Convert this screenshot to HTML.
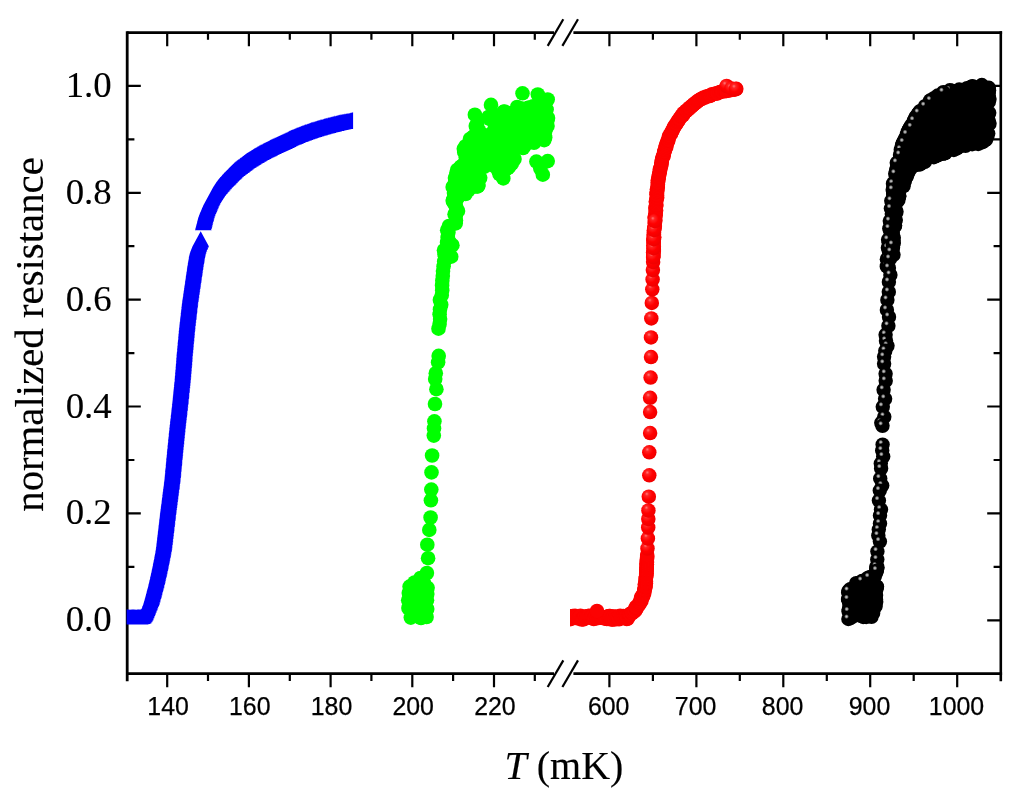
<!DOCTYPE html>
<html lang="en">
<head>
<meta charset="utf-8">
<title>normalized resistance vs T (mK)</title>
<style>
html,body{margin:0;padding:0;background:#fff;}
body{width:1024px;height:811px;overflow:hidden;}
svg{display:block;}
</style>
</head>
<body>
<svg width="1024" height="811" viewBox="0 0 1024 811" style="filter:blur(0.45px)">
<defs>
<radialGradient id="rb" cx="0.4" cy="0.36" r="0.66" fx="0.36" fy="0.3">
<stop offset="0" stop-color="#ff7a7a"/><stop offset="0.2" stop-color="#ff2424"/><stop offset="0.55" stop-color="#ff0000"/><stop offset="1" stop-color="#ee0000"/>
</radialGradient>
<radialGradient id="kb" cx="0.37" cy="0.33" r="0.5" fx="0.37" fy="0.33">
<stop offset="0" stop-color="#d0d0d0"/><stop offset="0.14" stop-color="#9a9a9a"/><stop offset="0.33" stop-color="#000"/><stop offset="1" stop-color="#000"/>
</radialGradient>
<clipPath id="cf"><rect x="126.6" y="34" width="872.9" height="638.3"/></clipPath>
<clipPath id="cb"><rect x="100" y="0" width="253.1" height="811"/></clipPath>
<clipPath id="cr"><rect x="570" y="0" width="460" height="811"/></clipPath>
</defs>
<rect width="1024" height="811" fill="#fff"/>
<g stroke="#000" stroke-width="2.8" fill="none" stroke-linecap="butt">
<path d="M127.2 31.200000000000003V681.3"/>
<path d="M1000.8 31.200000000000003V681.3" stroke-width="2.6"/>
<path d="M127.2 32.6H554.0 M573.4 32.6H1002.0999999999999"/>
<path d="M127.2 673.7H554.0 M573.4 673.7H1002.0999999999999"/>
</g>
<g stroke="#000" stroke-width="2.2" fill="none">
<path d="M547.7 45.9L563.3 19.3"/>
<path d="M562.4 45.9L578 19.3"/>
<path d="M547.7 687L563.3 660.4"/>
<path d="M562.4 687L578 660.4"/>
</g>
<g stroke="#000" stroke-width="2.2" fill="none">
<path d="M167.2 32.6v13.6M167.2 673.7v13.6M208 32.6v7.2M208 673.7v7.2M248.9 32.6v13.6M248.9 673.7v13.6M289.8 32.6v7.2M289.8 673.7v7.2M330.6 32.6v13.6M330.6 673.7v13.6M371.4 32.6v7.2M371.4 673.7v7.2M412.3 32.6v13.6M412.3 673.7v13.6M453.1 32.6v7.2M453.1 673.7v7.2M494 32.6v13.6M494 673.7v13.6M534.8 32.6v7.2M534.8 673.7v7.2M609.4 32.6v13.6M609.4 673.7v13.6M652.9 32.6v7.2M652.9 673.7v7.2M696.4 32.6v13.6M696.4 673.7v13.6M739.8 32.6v7.2M739.8 673.7v7.2M783.3 32.6v13.6M783.3 673.7v13.6M826.8 32.6v7.2M826.8 673.7v7.2M870.2 32.6v13.6M870.2 673.7v13.6M913.7 32.6v7.2M913.7 673.7v7.2M957.2 32.6v13.6M957.2 673.7v13.6M127.2 620.3h13.6M1000.8 620.3h-13.6M127.2 566.9h7.2M1000.8 566.9h-7.2M127.2 513.4h13.6M1000.8 513.4h-13.6M127.2 460h7.2M1000.8 460h-7.2M127.2 406.5h13.6M1000.8 406.5h-13.6M127.2 353.1h7.2M1000.8 353.1h-7.2M127.2 299.7h13.6M1000.8 299.7h-13.6M127.2 246.2h7.2M1000.8 246.2h-7.2M127.2 192.8h13.6M1000.8 192.8h-13.6M127.2 139.3h7.2M1000.8 139.3h-7.2M127.2 85.9h13.6M1000.8 85.9h-13.6"/>
</g>
<g font-family="'Liberation Sans', Arial, sans-serif" font-size="24.9" text-anchor="middle" fill="#000" stroke="#000" stroke-width="0.25">
<text x="168.1" y="715.4">140</text>
<text x="249.8" y="715.4">160</text>
<text x="331.5" y="715.4">180</text>
<text x="413.2" y="715.4">200</text>
<text x="494.9" y="715.4">220</text>
<text x="608.7" y="715.4">600</text>
<text x="695.6" y="715.4">700</text>
<text x="782.6" y="715.4">800</text>
<text x="869.5" y="715.4">900</text>
<text x="956.5" y="715.4">1000</text>
</g>
<g font-family="'Liberation Serif', 'Times New Roman', serif" font-size="36.8" text-anchor="end" fill="#000" stroke="#000" stroke-width="0.12">
<text x="111.7" y="631.3">0.0</text>
<text x="111.7" y="524.4">0.2</text>
<text x="111.7" y="417.5">0.4</text>
<text x="111.7" y="310.7">0.6</text>
<text x="111.7" y="203.8">0.8</text>
<text x="111.7" y="96.9">1.0</text>
</g>
<g font-family="'Liberation Serif', 'Times New Roman', serif" text-anchor="middle" fill="#000" stroke="#000" stroke-width="0.15">
<text font-size="40.8" transform="translate(42.5 334.5) rotate(-90)">normalized resistance</text>
<text font-size="40" x="564" y="778.8"><tspan font-style="italic">T</tspan> (mK)</text>
</g>
<g clip-path="url(#cf)">
<path fill="#0000fa" clip-path="url(#cb)" d="M118 609l8.4 15.5h-16.8zM119.2 609l8.4 15.5h-16.8zM120.4 609l8.4 15.5h-16.8zM121.6 609l8.4 15.5h-16.8zM122.8 609l8.4 15.5h-16.8zM124 609l8.4 15.5h-16.8zM125.2 609l8.4 15.5h-16.8zM126.4 609l8.4 15.5h-16.8zM127.6 609l8.4 15.5h-16.8zM128.8 609l8.4 15.5h-16.8zM130 609l8.4 15.5h-16.8zM131.2 609l8.4 15.5h-16.8zM132.4 609l8.4 15.5h-16.8zM133.6 609l8.4 15.5h-16.8zM134.8 609l8.4 15.5h-16.8zM136 609l8.4 15.5h-16.8zM137.3 609l8.4 15.5h-16.8zM138.5 609l8.4 15.5h-16.8zM139.7 608.9l8.4 15.5h-16.8zM140.9 608.8l8.4 15.5h-16.8zM142 608.5l8.4 15.5h-16.8zM143.1 607.9l8.4 15.5h-16.8zM143.9 607.1l8.4 15.5h-16.8zM144.6 606.1l8.4 15.5h-16.8zM145.1 605l8.4 15.5h-16.8zM145.6 603.9l8.4 15.5h-16.8zM146.1 602.8l8.4 15.5h-16.8zM146.5 601.7l8.4 15.5h-16.8zM147 600.6l8.4 15.5h-16.8zM147.4 599.4l8.4 15.5h-16.8zM147.8 598.3l8.4 15.5h-16.8zM148.3 597.2l8.4 15.5h-16.8zM148.7 596.1l8.4 15.5h-16.8zM149.2 595l8.4 15.5h-16.8zM149.6 593.9l8.4 15.5h-16.8zM150.1 592.7l8.4 15.5h-16.8zM150.5 591.6l8.4 15.5h-16.8zM151 590.5l8.4 15.5h-16.8zM151.4 589.4l8.4 15.5h-16.8zM151.7 588.2l8.4 15.5h-16.8zM152.1 587.1l8.4 15.5h-16.8zM152.4 585.9l8.4 15.5h-16.8zM152.7 584.7l8.4 15.5h-16.8zM153.1 583.6l8.4 15.5h-16.8zM153.4 582.4l8.4 15.5h-16.8zM153.7 581.3l8.4 15.5h-16.8zM154 580.1l8.4 15.5h-16.8zM154.3 578.9l8.4 15.5h-16.8zM154.6 577.8l8.4 15.5h-16.8zM154.9 576.6l8.4 15.5h-16.8zM155.2 575.5l8.4 15.5h-16.8zM155.5 574.3l8.4 15.5h-16.8zM155.9 573.1l8.4 15.5h-16.8zM156.2 572l8.4 15.5h-16.8zM156.4 570.8l8.4 15.5h-16.8zM156.7 569.6l8.4 15.5h-16.8zM157 568.5l8.4 15.5h-16.8zM157.3 567.3l8.4 15.5h-16.8zM157.5 566.1l8.4 15.5h-16.8zM157.8 564.9l8.4 15.5h-16.8zM158.1 563.8l8.4 15.5h-16.8zM158.3 562.6l8.4 15.5h-16.8zM158.6 561.4l8.4 15.5h-16.8zM158.9 560.2l8.4 15.5h-16.8zM159.1 559.1l8.4 15.5h-16.8zM159.4 557.9l8.4 15.5h-16.8zM159.6 556.7l8.4 15.5h-16.8zM159.9 555.5l8.4 15.5h-16.8zM160.1 554.4l8.4 15.5h-16.8zM160.4 553.2l8.4 15.5h-16.8zM160.6 552l8.4 15.5h-16.8zM160.9 550.8l8.4 15.5h-16.8zM161.1 549.6l8.4 15.5h-16.8zM161.3 548.5l8.4 15.5h-16.8zM161.6 547.3l8.4 15.5h-16.8zM161.8 546.1l8.4 15.5h-16.8zM162 544.9l8.4 15.5h-16.8zM162.3 543.7l8.4 15.5h-16.8zM162.5 542.6l8.4 15.5h-16.8zM162.7 541.4l8.4 15.5h-16.8zM162.9 540.2l8.4 15.5h-16.8zM163.2 539l8.4 15.5h-16.8zM163.4 537.8l8.4 15.5h-16.8zM163.6 536.6l8.4 15.5h-16.8zM163.8 535.5l8.4 15.5h-16.8zM164 534.3l8.4 15.5h-16.8zM164.1 533.1l8.4 15.5h-16.8zM164.3 531.9l8.4 15.5h-16.8zM164.4 530.7l8.4 15.5h-16.8zM164.6 529.5l8.4 15.5h-16.8zM164.7 528.3l8.4 15.5h-16.8zM164.9 527.1l8.4 15.5h-16.8zM165 525.9l8.4 15.5h-16.8zM165.1 524.7l8.4 15.5h-16.8zM165.3 523.5l8.4 15.5h-16.8zM165.4 522.3l8.4 15.5h-16.8zM165.6 521.1l8.4 15.5h-16.8zM165.7 519.9l8.4 15.5h-16.8zM165.8 518.7l8.4 15.5h-16.8zM166 517.5l8.4 15.5h-16.8zM166.1 516.4l8.4 15.5h-16.8zM166.3 515.2l8.4 15.5h-16.8zM166.4 514l8.4 15.5h-16.8zM166.5 512.8l8.4 15.5h-16.8zM166.7 511.6l8.4 15.5h-16.8zM166.8 510.4l8.4 15.5h-16.8zM167 509.2l8.4 15.5h-16.8zM167.1 508l8.4 15.5h-16.8zM167.2 506.8l8.4 15.5h-16.8zM167.4 505.6l8.4 15.5h-16.8zM167.5 504.4l8.4 15.5h-16.8zM167.7 503.2l8.4 15.5h-16.8zM167.8 502l8.4 15.5h-16.8zM167.9 500.8l8.4 15.5h-16.8zM168.1 499.6l8.4 15.5h-16.8zM168.2 498.4l8.4 15.5h-16.8zM168.4 497.2l8.4 15.5h-16.8zM168.5 496l8.4 15.5h-16.8zM168.7 494.8l8.4 15.5h-16.8zM168.8 493.7l8.4 15.5h-16.8zM169 492.5l8.4 15.5h-16.8zM169.1 491.3l8.4 15.5h-16.8zM169.3 490.1l8.4 15.5h-16.8zM169.5 488.9l8.4 15.5h-16.8zM169.6 487.7l8.4 15.5h-16.8zM169.8 486.5l8.4 15.5h-16.8zM169.9 485.3l8.4 15.5h-16.8zM170.1 484.1l8.4 15.5h-16.8zM170.2 482.9l8.4 15.5h-16.8zM170.4 481.7l8.4 15.5h-16.8zM170.5 480.5l8.4 15.5h-16.8zM170.7 479.3l8.4 15.5h-16.8zM170.8 478.1l8.4 15.5h-16.8zM171 476.9l8.4 15.5h-16.8zM171.1 475.8l8.4 15.5h-16.8zM171.3 474.6l8.4 15.5h-16.8zM171.5 473.4l8.4 15.5h-16.8zM171.6 472.2l8.4 15.5h-16.8zM171.8 471l8.4 15.5h-16.8zM171.9 469.8l8.4 15.5h-16.8zM172.1 468.6l8.4 15.5h-16.8zM172.2 467.4l8.4 15.5h-16.8zM172.4 466.2l8.4 15.5h-16.8zM172.5 465l8.4 15.5h-16.8zM172.6 463.8l8.4 15.5h-16.8zM172.8 462.6l8.4 15.5h-16.8zM172.9 461.4l8.4 15.5h-16.8zM173 460.2l8.4 15.5h-16.8zM173.1 459l8.4 15.5h-16.8zM173.2 457.8l8.4 15.5h-16.8zM173.3 456.6l8.4 15.5h-16.8zM173.4 455.4l8.4 15.5h-16.8zM173.5 454.2l8.4 15.5h-16.8zM173.7 453l8.4 15.5h-16.8zM173.8 451.8l8.4 15.5h-16.8zM173.9 450.6l8.4 15.5h-16.8zM174 449.4l8.4 15.5h-16.8zM174.1 448.2l8.4 15.5h-16.8zM174.2 447l8.4 15.5h-16.8zM174.3 445.8l8.4 15.5h-16.8zM174.4 444.6l8.4 15.5h-16.8zM174.5 443.4l8.4 15.5h-16.8zM174.7 442.2l8.4 15.5h-16.8zM174.8 441.1l8.4 15.5h-16.8zM174.9 439.9l8.4 15.5h-16.8zM175 438.7l8.4 15.5h-16.8zM175.1 437.5l8.4 15.5h-16.8zM175.2 436.3l8.4 15.5h-16.8zM175.3 435.1l8.4 15.5h-16.8zM175.5 433.9l8.4 15.5h-16.8zM175.6 432.7l8.4 15.5h-16.8zM175.7 431.5l8.4 15.5h-16.8zM175.8 430.3l8.4 15.5h-16.8zM176 429.1l8.4 15.5h-16.8zM176.1 427.9l8.4 15.5h-16.8zM176.2 426.7l8.4 15.5h-16.8zM176.3 425.5l8.4 15.5h-16.8zM176.4 424.3l8.4 15.5h-16.8zM176.6 423.1l8.4 15.5h-16.8zM176.7 421.9l8.4 15.5h-16.8zM176.8 420.7l8.4 15.5h-16.8zM176.9 419.5l8.4 15.5h-16.8zM177 418.3l8.4 15.5h-16.8zM177.2 417.1l8.4 15.5h-16.8zM177.3 415.9l8.4 15.5h-16.8zM177.4 414.7l8.4 15.5h-16.8zM177.5 413.5l8.4 15.5h-16.8zM177.7 412.3l8.4 15.5h-16.8zM177.8 411.1l8.4 15.5h-16.8zM177.9 409.9l8.4 15.5h-16.8zM178.1 408.7l8.4 15.5h-16.8zM178.2 407.5l8.4 15.5h-16.8zM178.3 406.3l8.4 15.5h-16.8zM178.5 405.1l8.4 15.5h-16.8zM178.6 404l8.4 15.5h-16.8zM178.8 402.8l8.4 15.5h-16.8zM178.9 401.6l8.4 15.5h-16.8zM179 400.4l8.4 15.5h-16.8zM179.2 399.2l8.4 15.5h-16.8zM179.3 398l8.4 15.5h-16.8zM179.4 396.8l8.4 15.5h-16.8zM179.6 395.6l8.4 15.5h-16.8zM179.7 394.4l8.4 15.5h-16.8zM179.8 393.2l8.4 15.5h-16.8zM180 392l8.4 15.5h-16.8zM180.1 390.8l8.4 15.5h-16.8zM180.2 389.6l8.4 15.5h-16.8zM180.4 388.4l8.4 15.5h-16.8zM180.5 387.2l8.4 15.5h-16.8zM180.6 386l8.4 15.5h-16.8zM180.7 384.8l8.4 15.5h-16.8zM180.9 383.6l8.4 15.5h-16.8zM181 382.4l8.4 15.5h-16.8zM181.1 381.2l8.4 15.5h-16.8zM181.2 380l8.4 15.5h-16.8zM181.3 378.8l8.4 15.5h-16.8zM181.5 377.6l8.4 15.5h-16.8zM181.6 376.4l8.4 15.5h-16.8zM181.7 375.2l8.4 15.5h-16.8zM181.8 374l8.4 15.5h-16.8zM182 372.8l8.4 15.5h-16.8zM182.1 371.7l8.4 15.5h-16.8zM182.2 370.5l8.4 15.5h-16.8zM182.3 369.3l8.4 15.5h-16.8zM182.4 368.1l8.4 15.5h-16.8zM182.6 366.9l8.4 15.5h-16.8zM182.7 365.7l8.4 15.5h-16.8zM182.8 364.5l8.4 15.5h-16.8zM182.9 363.3l8.4 15.5h-16.8zM183 362.1l8.4 15.5h-16.8zM183.1 360.9l8.4 15.5h-16.8zM183.2 359.7l8.4 15.5h-16.8zM183.3 358.5l8.4 15.5h-16.8zM183.4 357.3l8.4 15.5h-16.8zM183.5 356.1l8.4 15.5h-16.8zM183.6 354.9l8.4 15.5h-16.8zM183.7 353.7l8.4 15.5h-16.8zM183.8 352.5l8.4 15.5h-16.8zM183.9 351.3l8.4 15.5h-16.8zM184 350.1l8.4 15.5h-16.8zM184.1 348.9l8.4 15.5h-16.8zM184.2 347.7l8.4 15.5h-16.8zM184.3 346.5l8.4 15.5h-16.8zM184.4 345.3l8.4 15.5h-16.8zM184.4 344.1l8.4 15.5h-16.8zM184.5 342.9l8.4 15.5h-16.8zM184.6 341.7l8.4 15.5h-16.8zM184.7 340.5l8.4 15.5h-16.8zM184.8 339.3l8.4 15.5h-16.8zM184.9 338.1l8.4 15.5h-16.8zM185.1 336.9l8.4 15.5h-16.8zM185.2 335.7l8.4 15.5h-16.8zM185.3 334.5l8.4 15.5h-16.8zM185.4 333.3l8.4 15.5h-16.8zM185.5 332.1l8.4 15.5h-16.8zM185.6 330.9l8.4 15.5h-16.8zM185.7 329.7l8.4 15.5h-16.8zM185.8 328.5l8.4 15.5h-16.8zM185.9 327.3l8.4 15.5h-16.8zM186.1 326.1l8.4 15.5h-16.8zM186.2 324.9l8.4 15.5h-16.8zM186.3 323.7l8.4 15.5h-16.8zM186.4 322.5l8.4 15.5h-16.8zM186.5 321.3l8.4 15.5h-16.8zM186.6 320.1l8.4 15.5h-16.8zM186.7 318.9l8.4 15.5h-16.8zM186.8 317.7l8.4 15.5h-16.8zM186.9 316.5l8.4 15.5h-16.8zM187.1 315.3l8.4 15.5h-16.8zM187.2 314.1l8.4 15.5h-16.8zM187.3 312.9l8.4 15.5h-16.8zM187.4 311.7l8.4 15.5h-16.8zM187.6 310.5l8.4 15.5h-16.8zM187.7 309.3l8.4 15.5h-16.8zM187.8 308.1l8.4 15.5h-16.8zM188 306.9l8.4 15.5h-16.8zM188.1 305.8l8.4 15.5h-16.8zM188.3 304.6l8.4 15.5h-16.8zM188.4 303.4l8.4 15.5h-16.8zM188.5 302.2l8.4 15.5h-16.8zM188.7 301l8.4 15.5h-16.8zM188.8 299.8l8.4 15.5h-16.8zM188.9 298.6l8.4 15.5h-16.8zM189.1 297.4l8.4 15.5h-16.8zM189.2 296.2l8.4 15.5h-16.8zM189.3 295l8.4 15.5h-16.8zM189.5 293.8l8.4 15.5h-16.8zM189.6 292.6l8.4 15.5h-16.8zM189.8 291.4l8.4 15.5h-16.8zM189.9 290.2l8.4 15.5h-16.8zM190 289l8.4 15.5h-16.8zM190.2 287.8l8.4 15.5h-16.8zM190.4 286.6l8.4 15.5h-16.8zM190.5 285.4l8.4 15.5h-16.8zM190.7 284.3l8.4 15.5h-16.8zM190.9 283.1l8.4 15.5h-16.8zM191.1 281.9l8.4 15.5h-16.8zM191.2 280.7l8.4 15.5h-16.8zM191.4 279.5l8.4 15.5h-16.8zM191.6 278.3l8.4 15.5h-16.8zM191.8 277.1l8.4 15.5h-16.8zM191.9 275.9l8.4 15.5h-16.8zM192.1 274.7l8.4 15.5h-16.8zM192.3 273.5l8.4 15.5h-16.8zM192.5 272.3l8.4 15.5h-16.8zM192.6 271.2l8.4 15.5h-16.8zM192.8 270l8.4 15.5h-16.8zM193 268.8l8.4 15.5h-16.8zM193.2 267.6l8.4 15.5h-16.8zM193.3 266.4l8.4 15.5h-16.8zM193.5 265.2l8.4 15.5h-16.8zM193.7 264l8.4 15.5h-16.8zM193.8 262.8l8.4 15.5h-16.8zM194 261.6l8.4 15.5h-16.8zM194.2 260.4l8.4 15.5h-16.8zM194.4 259.3l8.4 15.5h-16.8zM194.5 258.1l8.4 15.5h-16.8zM194.7 256.9l8.4 15.5h-16.8zM194.9 255.7l8.4 15.5h-16.8zM195.1 254.5l8.4 15.5h-16.8zM195.2 253.3l8.4 15.5h-16.8zM195.4 252.1l8.4 15.5h-16.8zM195.6 250.9l8.4 15.5h-16.8zM195.8 249.7l8.4 15.5h-16.8zM196 248.5l8.4 15.5h-16.8zM196.2 247.4l8.4 15.5h-16.8zM196.4 246.2l8.4 15.5h-16.8zM196.6 245l8.4 15.5h-16.8zM196.8 243.8l8.4 15.5h-16.8zM197 242.6l8.4 15.5h-16.8zM197.2 241.4l8.4 15.5h-16.8zM197.5 240.3l8.4 15.5h-16.8zM197.8 239.1l8.4 15.5h-16.8zM198.1 237.9l8.4 15.5h-16.8zM198.5 236.8l8.4 15.5h-16.8zM198.9 235.7l8.4 15.5h-16.8zM199.4 234.6l8.4 15.5h-16.8zM199.8 233.4l8.4 15.5h-16.8zM200.3 232.3l8.4 15.5h-16.8zM200.7 231.2l8.4 15.5h-16.8zM203.3 214.8l8.4 15.5h-16.8zM203.6 213.6l8.4 15.5h-16.8zM203.9 212.5l8.4 15.5h-16.8zM204.2 211.3l8.4 15.5h-16.8zM204.5 210.1l8.4 15.5h-16.8zM204.8 209l8.4 15.5h-16.8zM205.1 207.8l8.4 15.5h-16.8zM205.4 206.6l8.4 15.5h-16.8zM205.7 205.4l8.4 15.5h-16.8zM206 204.3l8.4 15.5h-16.8zM206.3 203.1l8.4 15.5h-16.8zM206.7 202l8.4 15.5h-16.8zM207.1 200.8l8.4 15.5h-16.8zM207.5 199.7l8.4 15.5h-16.8zM208 198.6l8.4 15.5h-16.8zM208.4 197.5l8.4 15.5h-16.8zM208.9 196.4l8.4 15.5h-16.8zM209.4 195.3l8.4 15.5h-16.8zM209.9 194.1l8.4 15.5h-16.8zM210.3 193l8.4 15.5h-16.8zM210.8 191.9l8.4 15.5h-16.8zM211.3 190.8l8.4 15.5h-16.8zM211.8 189.7l8.4 15.5h-16.8zM212.4 188.7l8.4 15.5h-16.8zM213 187.6l8.4 15.5h-16.8zM213.6 186.6l8.4 15.5h-16.8zM214.2 185.6l8.4 15.5h-16.8zM214.9 184.5l8.4 15.5h-16.8zM215.5 183.5l8.4 15.5h-16.8zM216.2 182.5l8.4 15.5h-16.8zM216.8 181.5l8.4 15.5h-16.8zM217.6 180.5l8.4 15.5h-16.8zM218.3 179.6l8.4 15.5h-16.8zM219.1 178.6l8.4 15.5h-16.8zM219.8 177.7l8.4 15.5h-16.8zM220.6 176.8l8.4 15.5h-16.8zM221.4 175.9l8.4 15.5h-16.8zM222.2 174.9l8.4 15.5h-16.8zM223 174l8.4 15.5h-16.8zM223.8 173.2l8.4 15.5h-16.8zM224.6 172.3l8.4 15.5h-16.8zM225.5 171.4l8.4 15.5h-16.8zM226.3 170.6l8.4 15.5h-16.8zM227.2 169.7l8.4 15.5h-16.8zM228 168.9l8.4 15.5h-16.8zM228.9 168l8.4 15.5h-16.8zM229.7 167.2l8.4 15.5h-16.8zM230.6 166.3l8.4 15.5h-16.8zM231.4 165.5l8.4 15.5h-16.8zM232.3 164.6l8.4 15.5h-16.8zM233.2 163.8l8.4 15.5h-16.8zM234 162.9l8.4 15.5h-16.8zM234.9 162.1l8.4 15.5h-16.8zM235.8 161.3l8.4 15.5h-16.8zM236.8 160.6l8.4 15.5h-16.8zM237.7 159.8l8.4 15.5h-16.8zM238.7 159.1l8.4 15.5h-16.8zM239.7 158.4l8.4 15.5h-16.8zM240.6 157.6l8.4 15.5h-16.8zM241.6 156.9l8.4 15.5h-16.8zM242.5 156.2l8.4 15.5h-16.8zM243.5 155.5l8.4 15.5h-16.8zM244.5 154.7l8.4 15.5h-16.8zM245.4 154l8.4 15.5h-16.8zM246.4 153.3l8.4 15.5h-16.8zM247.4 152.6l8.4 15.5h-16.8zM248.4 152l8.4 15.5h-16.8zM249.4 151.3l8.4 15.5h-16.8zM250.5 150.7l8.4 15.5h-16.8zM251.5 150l8.4 15.5h-16.8zM252.5 149.4l8.4 15.5h-16.8zM253.5 148.8l8.4 15.5h-16.8zM254.6 148.1l8.4 15.5h-16.8zM255.6 147.5l8.4 15.5h-16.8zM256.6 146.9l8.4 15.5h-16.8zM257.7 146.3l8.4 15.5h-16.8zM258.7 145.7l8.4 15.5h-16.8zM259.8 145.1l8.4 15.5h-16.8zM260.8 144.5l8.4 15.5h-16.8zM261.9 143.9l8.4 15.5h-16.8zM263 143.4l8.4 15.5h-16.8zM264 142.8l8.4 15.5h-16.8zM265.1 142.3l8.4 15.5h-16.8zM266.2 141.8l8.4 15.5h-16.8zM267.3 141.2l8.4 15.5h-16.8zM268.4 140.7l8.4 15.5h-16.8zM269.5 140.2l8.4 15.5h-16.8zM270.5 139.6l8.4 15.5h-16.8zM271.6 139.1l8.4 15.5h-16.8zM272.7 138.6l8.4 15.5h-16.8zM273.8 138.1l8.4 15.5h-16.8zM274.9 137.6l8.4 15.5h-16.8zM276 137.1l8.4 15.5h-16.8zM277.1 136.6l8.4 15.5h-16.8zM278.2 136.1l8.4 15.5h-16.8zM279.3 135.6l8.4 15.5h-16.8zM280.4 135.1l8.4 15.5h-16.8zM281.5 134.6l8.4 15.5h-16.8zM282.6 134.1l8.4 15.5h-16.8zM283.7 133.6l8.4 15.5h-16.8zM284.8 133l8.4 15.5h-16.8zM285.8 132.5l8.4 15.5h-16.8zM286.9 131.9l8.4 15.5h-16.8zM288 131.4l8.4 15.5h-16.8zM289.1 130.8l8.4 15.5h-16.8zM290.1 130.3l8.4 15.5h-16.8zM291.2 129.8l8.4 15.5h-16.8zM292.3 129.3l8.4 15.5h-16.8zM293.5 128.9l8.4 15.5h-16.8zM294.6 128.4l8.4 15.5h-16.8zM295.7 128l8.4 15.5h-16.8zM296.8 127.5l8.4 15.5h-16.8zM297.9 127.1l8.4 15.5h-16.8zM299.1 126.6l8.4 15.5h-16.8zM300.2 126.2l8.4 15.5h-16.8zM301.3 125.7l8.4 15.5h-16.8zM302.4 125.3l8.4 15.5h-16.8zM303.6 124.9l8.4 15.5h-16.8zM304.7 124.5l8.4 15.5h-16.8zM305.8 124.1l8.4 15.5h-16.8zM307 123.7l8.4 15.5h-16.8zM308.1 123.3l8.4 15.5h-16.8zM309.3 122.9l8.4 15.5h-16.8zM310.4 122.5l8.4 15.5h-16.8zM311.6 122.1l8.4 15.5h-16.8zM312.7 121.8l8.4 15.5h-16.8zM313.8 121.4l8.4 15.5h-16.8zM315 121l8.4 15.5h-16.8zM316.1 120.7l8.4 15.5h-16.8zM317.3 120.3l8.4 15.5h-16.8zM318.5 120l8.4 15.5h-16.8zM319.6 119.7l8.4 15.5h-16.8zM320.8 119.3l8.4 15.5h-16.8zM321.9 119l8.4 15.5h-16.8zM323.1 118.7l8.4 15.5h-16.8zM324.3 118.3l8.4 15.5h-16.8zM325.4 118l8.4 15.5h-16.8zM326.6 117.7l8.4 15.5h-16.8zM327.8 117.4l8.4 15.5h-16.8zM328.9 117.1l8.4 15.5h-16.8zM330.1 116.8l8.4 15.5h-16.8zM331.3 116.5l8.4 15.5h-16.8zM332.4 116.2l8.4 15.5h-16.8zM333.6 115.9l8.4 15.5h-16.8zM334.8 115.6l8.4 15.5h-16.8zM336 115.4l8.4 15.5h-16.8zM337.1 115.1l8.4 15.5h-16.8zM338.3 114.8l8.4 15.5h-16.8zM339.5 114.5l8.4 15.5h-16.8zM340.7 114.3l8.4 15.5h-16.8zM341.9 114l8.4 15.5h-16.8zM343 113.8l8.4 15.5h-16.8zM344.2 113.6l8.4 15.5h-16.8zM345.4 113.4l8.4 15.5h-16.8zM346.6 113.2l8.4 15.5h-16.8zM347.8 112.9l8.4 15.5h-16.8zM349 112.7l8.4 15.5h-16.8zM350.2 112.5l8.4 15.5h-16.8zM351.3 112.3l8.4 15.5h-16.8zM352.5 112l8.4 15.5h-16.8zM353.7 111.8l8.4 15.5h-16.8zM354.9 111.6l8.4 15.5h-16.8zM356.1 111.3l8.4 15.5h-16.8zM357.3 111.1l8.4 15.5h-16.8zM358.4 110.9l8.4 15.5h-16.8zM359.6 110.7l8.4 15.5h-16.8zM360.8 110.4l8.4 15.5h-16.8zM362 110.2l8.4 15.5h-16.8z"/>
<g fill="#00ff00"><circle cx="426.9" cy="573" r="7.3"/><circle cx="427.6" cy="587.8" r="7.3"/><circle cx="409.6" cy="586.6" r="7.3"/><circle cx="408.2" cy="600.2" r="7.3"/><circle cx="427" cy="600.2" r="7.3"/><circle cx="410.8" cy="617.6" r="7.3"/><circle cx="426.6" cy="617" r="7.3"/><circle cx="417" cy="607.6" r="7.3"/><circle cx="417" cy="590.3" r="7.3"/><circle cx="420.5" cy="578" r="7.3"/><circle cx="414.5" cy="582.5" r="7.3"/><circle cx="421" cy="618" r="7.3"/><circle cx="416" cy="616" r="7.3"/><circle cx="408.8" cy="593" r="7.3"/><circle cx="408.4" cy="608" r="7.3"/><circle cx="427.2" cy="609" r="7.3"/><circle cx="420" cy="596" r="7.3"/><circle cx="413" cy="600" r="7.3"/><circle cx="424" cy="583" r="7.3"/><circle cx="412" cy="612" r="7.3"/><circle cx="427.3" cy="594" r="7.3"/><circle cx="428.1" cy="558.2" r="7.3"/><circle cx="427.3" cy="544.7" r="7.3"/><circle cx="429.3" cy="529.9" r="7.3"/><circle cx="430.6" cy="517.5" r="7.3"/><circle cx="430.9" cy="500.3" r="7.3"/><circle cx="431.3" cy="489.6" r="7.3"/><circle cx="431.5" cy="472.4" r="7.3"/><circle cx="432.1" cy="455.5" r="7.3"/><circle cx="433.8" cy="435.6" r="7.3"/><circle cx="434" cy="428.4" r="7.3"/><circle cx="434.4" cy="421.3" r="7.3"/><circle cx="435" cy="404" r="7.3"/><circle cx="436.4" cy="389.2" r="7.3"/><circle cx="435.2" cy="379" r="7.3"/><circle cx="435.8" cy="373.2" r="7.3"/><circle cx="438.1" cy="362.3" r="7.3"/><circle cx="438.7" cy="355.9" r="7.3"/><circle cx="438.5" cy="328.7" r="7.3"/><circle cx="439.6" cy="323.9" r="7.3"/><circle cx="440.1" cy="319.1" r="7.3"/><circle cx="439.6" cy="314.3" r="7.3"/><circle cx="440" cy="309.5" r="7.3"/><circle cx="441.2" cy="304.7" r="7.3"/><circle cx="439.9" cy="299.9" r="7.3"/><circle cx="441.8" cy="295.1" r="7.3"/><circle cx="442.2" cy="290.3" r="7.3"/><circle cx="442.1" cy="285.5" r="7.3"/><circle cx="442.3" cy="280.7" r="7.3"/><circle cx="442.8" cy="275.9" r="7.3"/><circle cx="443" cy="271.1" r="7.3"/><circle cx="443.6" cy="266.3" r="7.3"/><circle cx="444.2" cy="261.5" r="7.3"/><circle cx="445.1" cy="256.7" r="7.3"/><circle cx="446.8" cy="252" r="7.3"/><circle cx="447" cy="247.2" r="7.3"/><circle cx="447.1" cy="242.4" r="7.3"/><circle cx="451.2" cy="256.7" r="7.3"/><circle cx="444.5" cy="254.4" r="7.3"/><circle cx="444" cy="250.2" r="7.3"/><circle cx="448.5" cy="248" r="7.3"/><circle cx="452.4" cy="245.2" r="7.3"/><circle cx="449.5" cy="241.9" r="7.3"/><circle cx="447.7" cy="237.8" r="7.3"/><circle cx="447.8" cy="236.1" r="7.3"/><circle cx="448.4" cy="232.4" r="7.3"/><circle cx="447.2" cy="230.2" r="7.3"/><circle cx="449" cy="226" r="7.3"/><circle cx="455.7" cy="223.4" r="7.3"/><circle cx="455.9" cy="220.6" r="7.3"/><circle cx="455.7" cy="216.4" r="7.3"/><circle cx="454.6" cy="214.2" r="7.3"/><circle cx="458" cy="210.9" r="7.3"/><circle cx="456.3" cy="207.2" r="7.3"/><circle cx="455.2" cy="204.7" r="7.3"/><circle cx="453.8" cy="202.6" r="7.3"/><circle cx="456.4" cy="199.9" r="7.3"/><circle cx="458.8" cy="196.1" r="7.3"/><circle cx="460.2" cy="193.2" r="7.3"/><circle cx="457" cy="189.8" r="7.3"/><circle cx="458.8" cy="186.8" r="7.3"/><circle cx="458.5" cy="184.9" r="7.3"/><circle cx="516.5" cy="138.2" r="7.3"/><circle cx="475" cy="147.2" r="7.3"/><circle cx="545.2" cy="131.2" r="7.3"/><circle cx="463" cy="190.8" r="7.3"/><circle cx="455.2" cy="182.2" r="7.3"/><circle cx="474" cy="159.2" r="7.3"/><circle cx="513.5" cy="136.2" r="7.3"/><circle cx="465" cy="162.5" r="7.3"/><circle cx="459.8" cy="179" r="7.3"/><circle cx="474.5" cy="150.8" r="7.3"/><circle cx="518.5" cy="126.8" r="7.3"/><circle cx="489.5" cy="154.8" r="7.3"/><circle cx="465.5" cy="180" r="7.3"/><circle cx="526" cy="132" r="7.3"/><circle cx="478.5" cy="185" r="7.3"/><circle cx="468.8" cy="158.2" r="7.3"/><circle cx="469.8" cy="180.2" r="7.3"/><circle cx="464" cy="188.5" r="7.3"/><circle cx="511.2" cy="155" r="7.3"/><circle cx="484.5" cy="147.8" r="7.3"/><circle cx="468.2" cy="172.8" r="7.3"/><circle cx="513" cy="143.2" r="7.3"/><circle cx="534" cy="111.8" r="7.3"/><circle cx="526.2" cy="115.8" r="7.3"/><circle cx="512" cy="117.2" r="7.3"/><circle cx="471.2" cy="170.2" r="7.3"/><circle cx="509.2" cy="132.8" r="7.3"/><circle cx="495.5" cy="165.5" r="7.3"/><circle cx="519" cy="122" r="7.3"/><circle cx="455.8" cy="179.2" r="7.3"/><circle cx="498.5" cy="156.5" r="7.3"/><circle cx="462.2" cy="186.2" r="7.3"/><circle cx="533.2" cy="106.2" r="7.3"/><circle cx="511.5" cy="154.8" r="7.3"/><circle cx="514.5" cy="159" r="7.3"/><circle cx="477.2" cy="126.5" r="7.3"/><circle cx="464.2" cy="152" r="7.3"/><circle cx="502.2" cy="136.2" r="7.3"/><circle cx="547.5" cy="119.8" r="7.3"/><circle cx="520.8" cy="144" r="7.3"/><circle cx="499.5" cy="124" r="7.3"/><circle cx="490.8" cy="146" r="7.3"/><circle cx="505.5" cy="133.2" r="7.3"/><circle cx="544.2" cy="140.2" r="7.3"/><circle cx="464" cy="186.5" r="7.3"/><circle cx="487.2" cy="141.2" r="7.3"/><circle cx="538.2" cy="108.5" r="7.3"/><circle cx="457.5" cy="180.5" r="7.3"/><circle cx="468" cy="160.2" r="7.3"/><circle cx="500.8" cy="147" r="7.3"/><circle cx="454" cy="193" r="7.3"/><circle cx="495.2" cy="148" r="7.3"/><circle cx="498.2" cy="136.2" r="7.3"/><circle cx="545.2" cy="137.5" r="7.3"/><circle cx="456.5" cy="172.8" r="7.3"/><circle cx="509" cy="166.8" r="7.3"/><circle cx="455" cy="188" r="7.3"/><circle cx="523" cy="122.5" r="7.3"/><circle cx="530.2" cy="112.8" r="7.3"/><circle cx="504.5" cy="121.8" r="7.3"/><circle cx="469.8" cy="146.8" r="7.3"/><circle cx="526.2" cy="140" r="7.3"/><circle cx="503.2" cy="118" r="7.3"/><circle cx="478" cy="186.2" r="7.3"/><circle cx="477.2" cy="186.5" r="7.3"/><circle cx="503.2" cy="125.2" r="7.3"/><circle cx="506.5" cy="150.8" r="7.3"/><circle cx="524.2" cy="140.5" r="7.3"/><circle cx="463" cy="190.5" r="7.3"/><circle cx="522.8" cy="127.5" r="7.3"/><circle cx="533.8" cy="126" r="7.3"/><circle cx="460.5" cy="166.8" r="7.3"/><circle cx="498" cy="169.8" r="7.3"/><circle cx="509.5" cy="136.2" r="7.3"/><circle cx="536.2" cy="125.8" r="7.3"/><circle cx="519.2" cy="110.5" r="7.3"/><circle cx="505" cy="137.5" r="7.3"/><circle cx="500.5" cy="140.2" r="7.3"/><circle cx="518.2" cy="115.5" r="7.3"/><circle cx="501.2" cy="129.2" r="7.3"/><circle cx="489.2" cy="136.5" r="7.3"/><circle cx="511.5" cy="129.8" r="7.3"/><circle cx="481" cy="160.8" r="7.3"/><circle cx="498.5" cy="161.2" r="7.3"/><circle cx="477.2" cy="153.2" r="7.3"/><circle cx="507.8" cy="168.2" r="7.3"/><circle cx="484.2" cy="164.2" r="7.3"/><circle cx="510" cy="139.5" r="7.3"/><circle cx="514.5" cy="122.2" r="7.3"/><circle cx="530" cy="129.2" r="7.3"/><circle cx="498.5" cy="159.5" r="7.3"/><circle cx="462.5" cy="186.5" r="7.3"/><circle cx="483.2" cy="157.8" r="7.3"/><circle cx="470.2" cy="169.5" r="7.3"/><circle cx="492.8" cy="117.5" r="7.3"/><circle cx="452.8" cy="201" r="7.3"/><circle cx="507" cy="160.8" r="7.3"/><circle cx="467.2" cy="181.2" r="7.3"/><circle cx="478" cy="173.5" r="7.3"/><circle cx="456.8" cy="174.5" r="7.3"/><circle cx="544.5" cy="137" r="7.3"/><circle cx="530.2" cy="137.2" r="7.3"/><circle cx="520.5" cy="128" r="7.3"/><circle cx="506" cy="146.2" r="7.3"/><circle cx="544" cy="123.8" r="7.3"/><circle cx="474" cy="166.2" r="7.3"/><circle cx="465.8" cy="170.2" r="7.3"/><circle cx="540" cy="128" r="7.3"/><circle cx="500.2" cy="129.8" r="7.3"/><circle cx="517.2" cy="107" r="7.3"/><circle cx="510.8" cy="119.5" r="7.3"/><circle cx="525.8" cy="116.8" r="7.3"/><circle cx="484.2" cy="155" r="7.3"/><circle cx="517.5" cy="133.8" r="7.3"/><circle cx="476.5" cy="179" r="7.3"/><circle cx="456" cy="186" r="7.3"/><circle cx="491.8" cy="134" r="7.3"/><circle cx="530.2" cy="121" r="7.3"/><circle cx="470.5" cy="151.8" r="7.3"/><circle cx="521.8" cy="129.8" r="7.3"/><circle cx="504.8" cy="123.2" r="7.3"/><circle cx="465.8" cy="157.2" r="7.3"/><circle cx="539" cy="120.2" r="7.3"/><circle cx="548" cy="118" r="7.3"/><circle cx="523" cy="148" r="7.3"/><circle cx="464.2" cy="177" r="7.3"/><circle cx="507.2" cy="124.2" r="7.3"/><circle cx="501.2" cy="158.8" r="7.3"/><circle cx="496.8" cy="130" r="7.3"/><circle cx="453" cy="200" r="7.3"/><circle cx="538.8" cy="113.5" r="7.3"/><circle cx="517.8" cy="144.8" r="7.3"/><circle cx="493" cy="139.5" r="7.3"/><circle cx="502.8" cy="164" r="7.3"/><circle cx="514.2" cy="125.5" r="7.3"/><circle cx="477.5" cy="154.8" r="7.3"/><circle cx="508.5" cy="113" r="7.3"/><circle cx="476.5" cy="142.2" r="7.3"/><circle cx="477.2" cy="160.5" r="7.3"/><circle cx="471.5" cy="185.5" r="7.3"/><circle cx="528.5" cy="118.5" r="7.3"/><circle cx="453.8" cy="198.8" r="7.3"/><circle cx="488" cy="150" r="7.3"/><circle cx="465.5" cy="194" r="7.3"/><circle cx="496.5" cy="144.5" r="7.3"/><circle cx="547.5" cy="126" r="7.3"/><circle cx="516.2" cy="134" r="7.3"/><circle cx="475" cy="186.5" r="7.3"/><circle cx="457" cy="189.8" r="7.3"/><circle cx="457.5" cy="174" r="7.3"/><circle cx="465.8" cy="184.5" r="7.3"/><circle cx="528.8" cy="107.8" r="7.3"/><circle cx="510" cy="146" r="7.3"/><circle cx="517.2" cy="117" r="7.3"/><circle cx="477.8" cy="121" r="7.3"/><circle cx="508.2" cy="162" r="7.3"/><circle cx="483.5" cy="138.2" r="7.3"/><circle cx="536" cy="115.2" r="7.3"/><circle cx="510.8" cy="162" r="7.3"/><circle cx="466" cy="175" r="7.3"/><circle cx="524.8" cy="145.5" r="7.3"/><circle cx="505" cy="156" r="7.3"/><circle cx="466.8" cy="189.2" r="7.3"/><circle cx="473" cy="136.8" r="7.3"/><circle cx="480.2" cy="177.8" r="7.3"/><circle cx="461.2" cy="166.8" r="7.3"/><circle cx="501.8" cy="125" r="7.3"/><circle cx="512" cy="147.8" r="7.3"/><circle cx="477.8" cy="172.2" r="7.3"/><circle cx="468" cy="181.5" r="7.3"/><circle cx="458.2" cy="189.8" r="7.3"/><circle cx="505.5" cy="169.5" r="7.3"/><circle cx="528" cy="117.2" r="7.3"/><circle cx="546.5" cy="109.5" r="7.3"/><circle cx="481.8" cy="158" r="7.3"/><circle cx="497" cy="124.8" r="7.3"/><circle cx="468.5" cy="190" r="7.3"/><circle cx="534" cy="142.8" r="7.3"/><circle cx="474" cy="136.2" r="7.3"/><circle cx="488.2" cy="135.2" r="7.3"/><circle cx="539.5" cy="106.5" r="7.3"/><circle cx="528.2" cy="107.8" r="7.3"/><circle cx="485.2" cy="153" r="7.3"/><circle cx="532" cy="134" r="7.3"/><circle cx="524.8" cy="118.8" r="7.3"/><circle cx="467.2" cy="183.2" r="7.3"/><circle cx="461.5" cy="177" r="7.3"/><circle cx="469.2" cy="178.5" r="7.3"/><circle cx="477.2" cy="177.2" r="7.3"/><circle cx="479.2" cy="149" r="7.3"/><circle cx="502.2" cy="117" r="7.3"/><circle cx="512" cy="160" r="7.3"/><circle cx="528" cy="142.5" r="7.3"/><circle cx="522" cy="108.5" r="7.3"/><circle cx="498" cy="151.2" r="7.3"/><circle cx="527" cy="129.2" r="7.3"/><circle cx="506" cy="119" r="7.3"/><circle cx="476.5" cy="143.5" r="7.3"/><circle cx="459.2" cy="192.5" r="7.3"/><circle cx="538.5" cy="110.5" r="7.3"/><circle cx="465.5" cy="146.2" r="7.3"/><circle cx="514" cy="130" r="7.3"/><circle cx="528.5" cy="131.8" r="7.3"/><circle cx="533" cy="109" r="7.3"/><circle cx="510.2" cy="142.5" r="7.3"/><circle cx="495.8" cy="130" r="7.3"/><circle cx="485.8" cy="146.5" r="7.3"/><circle cx="499.5" cy="157.5" r="7.3"/><circle cx="509.8" cy="164.5" r="7.3"/><circle cx="508.8" cy="148.8" r="7.3"/><circle cx="513.8" cy="126.2" r="7.3"/><circle cx="498.8" cy="115.5" r="7.3"/><circle cx="477.5" cy="176" r="7.3"/><circle cx="503.5" cy="111.8" r="7.3"/><circle cx="487.2" cy="137.2" r="7.3"/><circle cx="482.5" cy="135.5" r="7.3"/><circle cx="490" cy="119" r="7.3"/><circle cx="536.5" cy="121.2" r="7.3"/><circle cx="499.5" cy="174.2" r="7.3"/><circle cx="468.2" cy="173.5" r="7.3"/><circle cx="531" cy="114.5" r="7.3"/><circle cx="478.2" cy="139.8" r="7.3"/><circle cx="521.8" cy="121.8" r="7.3"/><circle cx="487.2" cy="146.8" r="7.3"/><circle cx="521.2" cy="142.8" r="7.3"/><circle cx="475.8" cy="126" r="7.3"/><circle cx="467.2" cy="146.2" r="7.3"/><circle cx="530" cy="112.5" r="7.3"/><circle cx="520.8" cy="134" r="7.3"/><circle cx="455" cy="178" r="7.3"/><circle cx="527" cy="142.2" r="7.3"/><circle cx="457.2" cy="170" r="7.3"/><circle cx="504.8" cy="154" r="7.3"/><circle cx="483.5" cy="150.8" r="7.3"/><circle cx="484.2" cy="166.8" r="7.3"/><circle cx="504.5" cy="111.5" r="7.3"/><circle cx="535.8" cy="122.5" r="7.3"/><circle cx="470" cy="139" r="7.3"/><circle cx="493.5" cy="165.5" r="7.3"/><circle cx="501" cy="153.2" r="7.3"/><circle cx="492.5" cy="161" r="7.3"/><circle cx="470.8" cy="160.2" r="7.3"/><circle cx="499.5" cy="160.5" r="7.3"/><circle cx="483" cy="161.8" r="7.3"/><circle cx="546.2" cy="109.5" r="7.3"/><circle cx="539.8" cy="116" r="7.3"/><circle cx="521.8" cy="112.2" r="7.3"/><circle cx="505.8" cy="154.5" r="7.3"/><circle cx="471.5" cy="158.8" r="7.3"/><circle cx="538.5" cy="115.5" r="7.3"/><circle cx="506.5" cy="165.8" r="7.3"/><circle cx="482.2" cy="142.8" r="7.3"/><circle cx="455.8" cy="181" r="7.3"/><circle cx="522.5" cy="93.3" r="7.3"/><circle cx="537.8" cy="94.5" r="7.3"/><circle cx="547.7" cy="99.5" r="7.3"/><circle cx="491" cy="104.9" r="7.3"/><circle cx="474.9" cy="114.7" r="7.3"/><circle cx="536.4" cy="161.6" r="7.3"/><circle cx="547.7" cy="161.1" r="7.3"/><circle cx="542.8" cy="174.7" r="7.3"/><circle cx="503.3" cy="178.4" r="7.3"/><circle cx="511.9" cy="163.6" r="7.3"/><circle cx="452.7" cy="187" r="7.3"/><circle cx="463.8" cy="148.8" r="7.3"/><circle cx="540.3" cy="168.5" r="7.3"/><circle cx="488.5" cy="117" r="7.3"/><circle cx="479.5" cy="131.5" r="7.3"/><circle cx="494.5" cy="129.5" r="7.3"/></g>
<g clip-path="url(#cr)"><g fill="#fc0202"><circle cx="564" cy="616.3" r="7.25"/><circle cx="565.1" cy="617.9" r="7.25"/><circle cx="566.2" cy="617.4" r="7.25"/><circle cx="567.3" cy="618.6" r="7.25"/><circle cx="568.4" cy="616.4" r="7.25"/><circle cx="569.5" cy="619.3" r="7.25"/><circle cx="570.6" cy="616.5" r="7.25"/><circle cx="571.7" cy="618.7" r="7.25"/><circle cx="572.8" cy="615.9" r="7.25"/><circle cx="573.9" cy="617.5" r="7.25"/><circle cx="575" cy="615.7" r="7.25"/><circle cx="576.1" cy="616.9" r="7.25"/><circle cx="577.2" cy="616.8" r="7.25"/><circle cx="578.3" cy="618.5" r="7.25"/><circle cx="579.4" cy="617.4" r="7.25"/><circle cx="580.5" cy="615.8" r="7.25"/><circle cx="581.6" cy="619.6" r="7.25"/><circle cx="582.7" cy="619.2" r="7.25"/><circle cx="583.8" cy="619.3" r="7.25"/><circle cx="584.9" cy="616.6" r="7.25"/><circle cx="586" cy="617.2" r="7.25"/><circle cx="587.1" cy="616.5" r="7.25"/><circle cx="588.2" cy="616.1" r="7.25"/><circle cx="589.3" cy="615.7" r="7.25"/><circle cx="590.4" cy="617.6" r="7.25"/><circle cx="591.5" cy="616.1" r="7.25"/><circle cx="592.6" cy="616.3" r="7.25"/><circle cx="593.7" cy="619" r="7.25"/><circle cx="594.8" cy="617.5" r="7.25"/><circle cx="595.9" cy="616.3" r="7.25"/><circle cx="597" cy="618.3" r="7.25"/><circle cx="598.1" cy="616.7" r="7.25"/><circle cx="599.2" cy="617.7" r="7.25"/><circle cx="600.3" cy="616.7" r="7.25"/><circle cx="601.4" cy="617.7" r="7.25"/><circle cx="602.5" cy="618.1" r="7.25"/><circle cx="603.6" cy="617.7" r="7.25"/><circle cx="604.7" cy="617.2" r="7.25"/><circle cx="605.8" cy="618.8" r="7.25"/><circle cx="606.9" cy="619.1" r="7.25"/><circle cx="608" cy="616.3" r="7.25"/><circle cx="609.1" cy="616.1" r="7.25"/><circle cx="610.2" cy="616.1" r="7.25"/><circle cx="611.3" cy="619.5" r="7.25"/><circle cx="612.4" cy="619.4" r="7.25"/><circle cx="613.5" cy="616.5" r="7.25"/><circle cx="614.6" cy="619.5" r="7.25"/><circle cx="615.7" cy="616.4" r="7.25"/><circle cx="616.8" cy="617.6" r="7.25"/><circle cx="617.9" cy="617.6" r="7.25"/><circle cx="619" cy="619.3" r="7.25"/><circle cx="620.1" cy="615.8" r="7.25"/><circle cx="621.2" cy="616.9" r="7.25"/><circle cx="622.3" cy="618" r="7.25"/><circle cx="623.4" cy="615.9" r="7.25"/><circle cx="624.5" cy="616.5" r="7.25"/><circle cx="625.6" cy="617.5" r="7.25"/><circle cx="626.7" cy="619.1" r="7.25"/><circle cx="627.8" cy="618.6" r="7.25"/><circle cx="597" cy="610.9" r="7.25"/><circle cx="624.4" cy="617.7" r="7.25"/><circle cx="625.2" cy="617.4" r="7.25"/><circle cx="626.1" cy="616.9" r="7.25"/><circle cx="626.5" cy="616.1" r="7.25"/><circle cx="628.1" cy="615.6" r="7.25"/><circle cx="629.3" cy="615.5" r="7.25"/><circle cx="629.2" cy="615.3" r="7.25"/><circle cx="629.6" cy="614.3" r="7.25"/><circle cx="630.3" cy="614.2" r="7.25"/><circle cx="632" cy="613.4" r="7.25"/><circle cx="632.1" cy="612.7" r="7.25"/><circle cx="633.8" cy="611.8" r="7.25"/><circle cx="635.1" cy="610.8" r="7.25"/><circle cx="634.5" cy="610.4" r="7.25"/><circle cx="636.2" cy="609.1" r="7.25"/><circle cx="636.4" cy="608" r="7.25"/><circle cx="636.7" cy="608.2" r="7.25"/><circle cx="635.8" cy="607.3" r="7.25"/><circle cx="636.2" cy="606.9" r="7.25"/><circle cx="638.1" cy="605" r="7.25"/><circle cx="639.4" cy="604.4" r="7.25"/><circle cx="639.9" cy="602.7" r="7.25"/><circle cx="639.9" cy="602.6" r="7.25"/><circle cx="641.5" cy="600.8" r="7.25"/><circle cx="640.4" cy="601" r="7.25"/><circle cx="641.2" cy="599" r="7.25"/><circle cx="641.7" cy="598.4" r="7.25"/><circle cx="640.9" cy="598.6" r="7.25"/><circle cx="641.3" cy="596.9" r="7.25"/><circle cx="643.2" cy="596.4" r="7.25"/><circle cx="643" cy="595.6" r="7.25"/><circle cx="643.1" cy="594.3" r="7.25"/><circle cx="644.2" cy="593.4" r="7.25"/><circle cx="644" cy="592.1" r="7.25"/><circle cx="644.1" cy="591.1" r="7.25"/><circle cx="644.7" cy="590.1" r="7.25"/><circle cx="644.4" cy="589.5" r="7.25"/><circle cx="644.7" cy="588.1" r="7.25"/><circle cx="645.4" cy="587.2" r="7.25"/><circle cx="645.5" cy="586.5" r="7.25"/><circle cx="645.1" cy="585.4" r="7.25"/><circle cx="644.8" cy="584.2" r="7.25"/><circle cx="645.9" cy="583.3" r="7.25"/><circle cx="645.7" cy="582.4" r="7.25"/><circle cx="645.9" cy="581.3" r="7.25"/><circle cx="645.7" cy="580.1" r="7.25"/><circle cx="645.7" cy="579.1" r="7.25"/><circle cx="645.9" cy="578.5" r="7.25"/><circle cx="645.9" cy="577.2" r="7.25"/><circle cx="646" cy="576.2" r="7.25"/><circle cx="646.5" cy="575.4" r="7.25"/><circle cx="646.1" cy="574.1" r="7.25"/><circle cx="646.5" cy="573.2" r="7.25"/><circle cx="646.4" cy="572" r="7.25"/><circle cx="646.6" cy="571.1" r="7.25"/><circle cx="646.4" cy="570" r="7.25"/><circle cx="646.5" cy="569.3" r="7.25"/><circle cx="646.7" cy="568.1" r="7.25"/><circle cx="646.7" cy="567.1" r="7.25"/><circle cx="646.6" cy="566.1" r="7.25"/><circle cx="646.6" cy="565" r="7.25"/><circle cx="646.9" cy="564.2" r="7.25"/><circle cx="646.6" cy="563.2" r="7.25"/><circle cx="647" cy="562.1" r="7.25"/><circle cx="646.7" cy="561.1" r="7.25"/><circle cx="646.9" cy="560.1" r="7.25"/><circle cx="647" cy="559.1" r="7.25"/><circle cx="647" cy="558" r="7.25"/><circle cx="647.2" cy="557.1" r="7.25"/><circle cx="647.1" cy="556.1" r="7.25"/><circle cx="647.2" cy="554.9" r="7.25"/><circle cx="653.1" cy="256.9" r="7.25"/><circle cx="653.3" cy="256.1" r="7.25"/><circle cx="653.6" cy="254" r="7.25"/><circle cx="653.1" cy="252.6" r="7.25"/><circle cx="653.7" cy="251.2" r="7.25"/><circle cx="653.9" cy="249.9" r="7.25"/><circle cx="653.7" cy="248.5" r="7.25"/><circle cx="653.8" cy="246.6" r="7.25"/><circle cx="653.4" cy="245.2" r="7.25"/><circle cx="653.7" cy="243.4" r="7.25"/><circle cx="653.7" cy="242.3" r="7.25"/><circle cx="653.4" cy="240.3" r="7.25"/><circle cx="653.5" cy="239" r="7.25"/><circle cx="654.3" cy="237.2" r="7.25"/><circle cx="653.6" cy="235.8" r="7.25"/><circle cx="653.9" cy="234.2" r="7.25"/><circle cx="654" cy="232.8" r="7.25"/><circle cx="653.9" cy="231.9" r="7.25"/><circle cx="653.9" cy="230.2" r="7.25"/><circle cx="654.2" cy="228.5" r="7.25"/><circle cx="654.7" cy="226.8" r="7.25"/><circle cx="654.9" cy="226" r="7.25"/><circle cx="654.8" cy="223.6" r="7.25"/><circle cx="654.9" cy="222.7" r="7.25"/><circle cx="655.1" cy="220.8" r="7.25"/><circle cx="655.4" cy="220" r="7.25"/><circle cx="654.7" cy="217.9" r="7.25"/><circle cx="654.7" cy="216.9" r="7.25"/><circle cx="655.7" cy="215.5" r="7.25"/><circle cx="655.5" cy="213.7" r="7.25"/><circle cx="655.7" cy="212.1" r="7.25"/><circle cx="656.1" cy="210.6" r="7.25"/><circle cx="655.6" cy="209" r="7.25"/><circle cx="655.4" cy="207.7" r="7.25"/><circle cx="656.1" cy="205.9" r="7.25"/><circle cx="656.4" cy="204.8" r="7.25"/><circle cx="656" cy="202.6" r="7.25"/><circle cx="655.9" cy="201.2" r="7.25"/><circle cx="656.2" cy="199.9" r="7.25"/><circle cx="657" cy="198.3" r="7.25"/><circle cx="657" cy="197.2" r="7.25"/><circle cx="657.1" cy="195.4" r="7.25"/><circle cx="656.4" cy="194.3" r="7.25"/><circle cx="656.7" cy="192.1" r="7.25"/><circle cx="657.4" cy="191.1" r="7.25"/><circle cx="656.9" cy="189.2" r="7.25"/><circle cx="657.8" cy="187.7" r="7.25"/><circle cx="657.7" cy="186.1" r="7.25"/><circle cx="657.9" cy="184.5" r="7.25"/><circle cx="657.8" cy="183" r="7.25"/><circle cx="658" cy="182.3" r="7.25"/><circle cx="657.8" cy="180.2" r="7.25"/><circle cx="658.7" cy="179.1" r="7.25"/><circle cx="658.5" cy="177.6" r="7.25"/><circle cx="658.9" cy="176.3" r="7.25"/><circle cx="659" cy="174.7" r="7.25"/><circle cx="659.6" cy="173.2" r="7.25"/><circle cx="659.6" cy="171.7" r="7.25"/><circle cx="660.2" cy="169.9" r="7.25"/><circle cx="659.9" cy="169" r="7.25"/><circle cx="660.9" cy="166.8" r="7.25"/><circle cx="661.2" cy="165.4" r="7.25"/><circle cx="661.3" cy="164.5" r="7.25"/><circle cx="661.6" cy="162.4" r="7.25"/><circle cx="661.8" cy="160.8" r="7.25"/><circle cx="662.1" cy="159.5" r="7.25"/><circle cx="662.4" cy="157.8" r="7.25"/><circle cx="663.1" cy="156.5" r="7.25"/><circle cx="663.7" cy="155.7" r="7.25"/><circle cx="663.7" cy="153.9" r="7.25"/><circle cx="664.3" cy="152" r="7.25"/><circle cx="664.3" cy="151.3" r="7.25"/><circle cx="665.1" cy="149.8" r="7.25"/><circle cx="665.1" cy="148.1" r="7.25"/><circle cx="666.3" cy="147" r="7.25"/><circle cx="665.9" cy="145.2" r="7.25"/><circle cx="666.8" cy="144" r="7.25"/><circle cx="667" cy="142.1" r="7.25"/><circle cx="668.2" cy="140.8" r="7.25"/><circle cx="668.3" cy="139.9" r="7.25"/><circle cx="668.7" cy="137.6" r="7.25"/><circle cx="669.3" cy="136.3" r="7.25"/><circle cx="669.5" cy="135.3" r="7.25"/><circle cx="671" cy="133.9" r="7.25"/><circle cx="671.4" cy="132.3" r="7.25"/><circle cx="672" cy="131.4" r="7.25"/><circle cx="672.7" cy="130.1" r="7.25"/><circle cx="673.4" cy="128.2" r="7.25"/><circle cx="674.2" cy="127.2" r="7.25"/><circle cx="674.6" cy="126" r="7.25"/><circle cx="676.1" cy="124.2" r="7.25"/><circle cx="676.6" cy="123.6" r="7.25"/><circle cx="677.3" cy="121.8" r="7.25"/><circle cx="678.1" cy="120.8" r="7.25"/><circle cx="679.2" cy="119.6" r="7.25"/><circle cx="679.5" cy="118.6" r="7.25"/><circle cx="681.3" cy="116.7" r="7.25"/><circle cx="681.6" cy="115.6" r="7.25"/><circle cx="683.1" cy="115.2" r="7.25"/><circle cx="683.3" cy="113.5" r="7.25"/><circle cx="684.5" cy="112.5" r="7.25"/><circle cx="686.3" cy="111" r="7.25"/><circle cx="686.6" cy="110.4" r="7.25"/><circle cx="688.1" cy="109.6" r="7.25"/><circle cx="689.1" cy="108" r="7.25"/><circle cx="690.1" cy="107.8" r="7.25"/><circle cx="691.7" cy="106" r="7.25"/><circle cx="692.9" cy="105.2" r="7.25"/><circle cx="694" cy="104" r="7.25"/><circle cx="695.3" cy="103.2" r="7.25"/><circle cx="696.1" cy="102.7" r="7.25"/><circle cx="697.4" cy="101.4" r="7.25"/><circle cx="698.3" cy="100.7" r="7.25"/><circle cx="699.5" cy="99.8" r="7.25"/><circle cx="700.8" cy="99.3" r="7.25"/><circle cx="702.4" cy="98.6" r="7.25"/><circle cx="703.6" cy="97.4" r="7.25"/><circle cx="705.1" cy="97.5" r="7.25"/><circle cx="706.4" cy="96.6" r="7.25"/><circle cx="708.3" cy="96" r="7.25"/><circle cx="709.8" cy="96" r="7.25"/><circle cx="710.7" cy="95.3" r="7.25"/><circle cx="712" cy="94.2" r="7.25"/><circle cx="713.7" cy="94.2" r="7.25"/><circle cx="715.6" cy="93.4" r="7.25"/><circle cx="716.9" cy="93.3" r="7.25"/><circle cx="717.7" cy="93.4" r="7.25"/><circle cx="719.8" cy="92.1" r="7.25"/><circle cx="721.4" cy="91.7" r="7.25"/><circle cx="722.1" cy="91.6" r="7.25"/><circle cx="724.4" cy="90.9" r="7.25"/><circle cx="725.8" cy="91.2" r="7.25"/><circle cx="726.5" cy="90.8" r="7.25"/><circle cx="728.3" cy="90.5" r="7.25"/><circle cx="730.1" cy="90.3" r="7.25"/><circle cx="731.8" cy="89.5" r="7.25"/><circle cx="733.1" cy="89.5" r="7.25"/><circle cx="734.6" cy="89.7" r="7.25"/><circle cx="736.3" cy="88.8" r="7.25"/></g><g fill="url(#rb)"><circle cx="647.5" cy="548.5" r="7.25"/><circle cx="647.9" cy="538.5" r="7.25"/><circle cx="648.2" cy="527.5" r="7.25"/><circle cx="648.3" cy="519" r="7.25"/><circle cx="648.4" cy="510.5" r="7.25"/><circle cx="648.8" cy="496.7" r="7.25"/><circle cx="649.3" cy="475.3" r="7.25"/><circle cx="649.3" cy="452.3" r="7.25"/><circle cx="650.1" cy="433.1" r="7.25"/><circle cx="650.1" cy="412.1" r="7.25"/><circle cx="650.1" cy="397.8" r="7.25"/><circle cx="650.6" cy="377.6" r="7.25"/><circle cx="651" cy="357.1" r="7.25"/><circle cx="651" cy="337.4" r="7.25"/><circle cx="651.3" cy="318.4" r="7.25"/><circle cx="651.8" cy="302.9" r="7.25"/><circle cx="652.3" cy="289.3" r="7.25"/><circle cx="652.6" cy="279.5" r="7.25"/><circle cx="652.9" cy="270" r="7.25"/><circle cx="653.1" cy="262" r="7.25"/><circle cx="653.3" cy="257.3" r="7.25"/><circle cx="653.6" cy="248.2" r="7.25"/><circle cx="653.8" cy="239.2" r="7.25"/><circle cx="654.2" cy="230.1" r="7.25"/><circle cx="654.8" cy="221.1" r="7.25"/><circle cx="726.6" cy="86" r="7.25"/><circle cx="731.5" cy="88.6" r="7.25"/><circle cx="735.9" cy="89" r="7.25"/></g></g>
<g fill="#000"><circle cx="898.5" cy="199.8" r="7.2"/><circle cx="925.2" cy="127.8" r="7.2"/><circle cx="918.8" cy="145" r="7.2"/><circle cx="943.5" cy="99.5" r="7.2"/><circle cx="946.5" cy="147.2" r="7.2"/><circle cx="931.5" cy="111.8" r="7.2"/><circle cx="899.2" cy="195.8" r="7.2"/><circle cx="958" cy="143.5" r="7.2"/><circle cx="973" cy="103" r="7.2"/><circle cx="894.8" cy="184.2" r="7.2"/><circle cx="959.8" cy="113.8" r="7.2"/><circle cx="956.2" cy="146.2" r="7.2"/><circle cx="893.5" cy="192.8" r="7.2"/><circle cx="910" cy="150.2" r="7.2"/><circle cx="892.8" cy="232.8" r="7.2"/><circle cx="923" cy="117.8" r="7.2"/><circle cx="966.2" cy="107" r="7.2"/><circle cx="909" cy="155.5" r="7.2"/><circle cx="979" cy="141.8" r="7.2"/><circle cx="896.8" cy="167.8" r="7.2"/><circle cx="953.5" cy="126.2" r="7.2"/><circle cx="968.2" cy="111.2" r="7.2"/><circle cx="919.5" cy="157.5" r="7.2"/><circle cx="894" cy="195" r="7.2"/><circle cx="967" cy="115.2" r="7.2"/><circle cx="924.2" cy="124.2" r="7.2"/><circle cx="978" cy="111.5" r="7.2"/><circle cx="978.2" cy="92.2" r="7.2"/><circle cx="969.8" cy="98.2" r="7.2"/><circle cx="951.8" cy="131.2" r="7.2"/><circle cx="918.5" cy="133.2" r="7.2"/><circle cx="958" cy="146" r="7.2"/><circle cx="905.8" cy="170.2" r="7.2"/><circle cx="892.5" cy="209.2" r="7.2"/><circle cx="919" cy="147" r="7.2"/><circle cx="926.2" cy="120" r="7.2"/><circle cx="908" cy="159.8" r="7.2"/><circle cx="907.8" cy="147.2" r="7.2"/><circle cx="902" cy="145.2" r="7.2"/><circle cx="923.5" cy="147.2" r="7.2"/><circle cx="916.5" cy="152" r="7.2"/><circle cx="934.2" cy="131.8" r="7.2"/><circle cx="939.2" cy="120.2" r="7.2"/><circle cx="896.8" cy="171.5" r="7.2"/><circle cx="909.8" cy="127.8" r="7.2"/><circle cx="944.8" cy="122.2" r="7.2"/><circle cx="975.5" cy="124.8" r="7.2"/><circle cx="923.8" cy="157" r="7.2"/><circle cx="922.2" cy="162" r="7.2"/><circle cx="895.2" cy="184" r="7.2"/><circle cx="930" cy="124.8" r="7.2"/><circle cx="938.8" cy="154.5" r="7.2"/><circle cx="923" cy="120.5" r="7.2"/><circle cx="976.5" cy="111" r="7.2"/><circle cx="981.5" cy="115.5" r="7.2"/><circle cx="985.2" cy="123.5" r="7.2"/><circle cx="922" cy="122" r="7.2"/><circle cx="927.5" cy="114.8" r="7.2"/><circle cx="972.5" cy="90" r="7.2"/><circle cx="901.5" cy="171.2" r="7.2"/><circle cx="942" cy="128" r="7.2"/><circle cx="973" cy="130.2" r="7.2"/><circle cx="978" cy="127.5" r="7.2"/><circle cx="924" cy="133.2" r="7.2"/><circle cx="961.8" cy="121" r="7.2"/><circle cx="930.2" cy="142.8" r="7.2"/><circle cx="916.2" cy="117.2" r="7.2"/><circle cx="961.5" cy="135.8" r="7.2"/><circle cx="960" cy="94" r="7.2"/><circle cx="894" cy="227.2" r="7.2"/><circle cx="909.2" cy="129.2" r="7.2"/><circle cx="893.5" cy="202.5" r="7.2"/><circle cx="946" cy="149.5" r="7.2"/><circle cx="918" cy="153.8" r="7.2"/><circle cx="951.8" cy="94.5" r="7.2"/><circle cx="949.8" cy="125.2" r="7.2"/><circle cx="952.8" cy="117.5" r="7.2"/><circle cx="909.2" cy="151" r="7.2"/><circle cx="890.8" cy="221.5" r="7.2"/><circle cx="909" cy="138.5" r="7.2"/><circle cx="941.8" cy="108" r="7.2"/><circle cx="926" cy="140.8" r="7.2"/><circle cx="917.2" cy="152.8" r="7.2"/><circle cx="914.5" cy="128.2" r="7.2"/><circle cx="960.5" cy="143" r="7.2"/><circle cx="895" cy="181.2" r="7.2"/><circle cx="964.8" cy="115.5" r="7.2"/><circle cx="940.5" cy="110.8" r="7.2"/><circle cx="965.8" cy="96" r="7.2"/><circle cx="937.5" cy="127.8" r="7.2"/><circle cx="969" cy="107" r="7.2"/><circle cx="919.2" cy="148" r="7.2"/><circle cx="894.5" cy="225.5" r="7.2"/><circle cx="920.8" cy="141" r="7.2"/><circle cx="932.2" cy="154.5" r="7.2"/><circle cx="977" cy="132.2" r="7.2"/><circle cx="981.8" cy="106.2" r="7.2"/><circle cx="943.8" cy="143.8" r="7.2"/><circle cx="959" cy="111.8" r="7.2"/><circle cx="958" cy="145.8" r="7.2"/><circle cx="924.5" cy="154" r="7.2"/><circle cx="970" cy="133.5" r="7.2"/><circle cx="920" cy="111.2" r="7.2"/><circle cx="971.8" cy="141.5" r="7.2"/><circle cx="923.8" cy="146.2" r="7.2"/><circle cx="967" cy="88.2" r="7.2"/><circle cx="908.2" cy="158.8" r="7.2"/><circle cx="895.2" cy="211.2" r="7.2"/><circle cx="975" cy="91.2" r="7.2"/><circle cx="927.8" cy="142.2" r="7.2"/><circle cx="976" cy="88.5" r="7.2"/><circle cx="910.2" cy="161.5" r="7.2"/><circle cx="896.2" cy="180" r="7.2"/><circle cx="892.2" cy="217.8" r="7.2"/><circle cx="917" cy="116" r="7.2"/><circle cx="967.2" cy="115" r="7.2"/><circle cx="949.2" cy="131.2" r="7.2"/><circle cx="945" cy="135.8" r="7.2"/><circle cx="915.5" cy="117" r="7.2"/><circle cx="935.5" cy="139.2" r="7.2"/><circle cx="942.2" cy="140.2" r="7.2"/><circle cx="937.8" cy="131" r="7.2"/><circle cx="971.8" cy="120.8" r="7.2"/><circle cx="984.8" cy="139.5" r="7.2"/><circle cx="958" cy="101.2" r="7.2"/><circle cx="917.8" cy="114.2" r="7.2"/><circle cx="904" cy="140.8" r="7.2"/><circle cx="926.2" cy="157" r="7.2"/><circle cx="909" cy="135.5" r="7.2"/><circle cx="970.5" cy="120.5" r="7.2"/><circle cx="900.5" cy="177.5" r="7.2"/><circle cx="965.5" cy="145.8" r="7.2"/><circle cx="977" cy="115.2" r="7.2"/><circle cx="924" cy="129" r="7.2"/><circle cx="916.8" cy="139" r="7.2"/><circle cx="897" cy="201.8" r="7.2"/><circle cx="921.2" cy="111.2" r="7.2"/><circle cx="907.8" cy="131.5" r="7.2"/><circle cx="960.2" cy="92.5" r="7.2"/><circle cx="938.2" cy="155.2" r="7.2"/><circle cx="989.5" cy="99" r="7.2"/><circle cx="975" cy="137" r="7.2"/><circle cx="974.8" cy="115.8" r="7.2"/><circle cx="954.2" cy="111" r="7.2"/><circle cx="890.2" cy="228.5" r="7.2"/><circle cx="985.5" cy="115.8" r="7.2"/><circle cx="937.2" cy="148" r="7.2"/><circle cx="956.8" cy="133.2" r="7.2"/><circle cx="911.2" cy="160.8" r="7.2"/><circle cx="980.5" cy="126.8" r="7.2"/><circle cx="893.5" cy="195.8" r="7.2"/><circle cx="932.2" cy="143.8" r="7.2"/><circle cx="954.2" cy="117.8" r="7.2"/><circle cx="979.2" cy="112.2" r="7.2"/><circle cx="941" cy="100" r="7.2"/><circle cx="900.8" cy="172.8" r="7.2"/><circle cx="988.8" cy="95.8" r="7.2"/><circle cx="970" cy="96.2" r="7.2"/><circle cx="956.2" cy="140.5" r="7.2"/><circle cx="914" cy="134.8" r="7.2"/><circle cx="894" cy="210.8" r="7.2"/><circle cx="982.5" cy="94.8" r="7.2"/><circle cx="894.8" cy="199.5" r="7.2"/><circle cx="957.8" cy="102.2" r="7.2"/><circle cx="919.8" cy="141.8" r="7.2"/><circle cx="953.5" cy="100.8" r="7.2"/><circle cx="948.8" cy="131.5" r="7.2"/><circle cx="934.5" cy="156.2" r="7.2"/><circle cx="945" cy="98" r="7.2"/><circle cx="947.5" cy="147.5" r="7.2"/><circle cx="968.5" cy="136.8" r="7.2"/><circle cx="909" cy="145.2" r="7.2"/><circle cx="929" cy="157" r="7.2"/><circle cx="932.8" cy="106.2" r="7.2"/><circle cx="910.8" cy="148.8" r="7.2"/><circle cx="969.5" cy="97.5" r="7.2"/><circle cx="924.2" cy="128" r="7.2"/><circle cx="917.5" cy="121.2" r="7.2"/><circle cx="973.8" cy="140.5" r="7.2"/><circle cx="890.8" cy="223.8" r="7.2"/><circle cx="902.8" cy="166.5" r="7.2"/><circle cx="950.2" cy="149" r="7.2"/><circle cx="958.8" cy="108" r="7.2"/><circle cx="989" cy="90" r="7.2"/><circle cx="903.2" cy="163.2" r="7.2"/><circle cx="924.2" cy="139.2" r="7.2"/><circle cx="925" cy="154.5" r="7.2"/><circle cx="978.5" cy="142" r="7.2"/><circle cx="965.2" cy="124" r="7.2"/><circle cx="964.5" cy="106" r="7.2"/><circle cx="983.5" cy="126.8" r="7.2"/><circle cx="934" cy="150" r="7.2"/><circle cx="930.5" cy="139" r="7.2"/><circle cx="891.8" cy="214" r="7.2"/><circle cx="952.8" cy="103.2" r="7.2"/><circle cx="982" cy="128" r="7.2"/><circle cx="924.5" cy="112.2" r="7.2"/><circle cx="948.5" cy="107.5" r="7.2"/><circle cx="957.5" cy="95.5" r="7.2"/><circle cx="959.8" cy="144.2" r="7.2"/><circle cx="951.2" cy="128.8" r="7.2"/><circle cx="954" cy="102" r="7.2"/><circle cx="949.8" cy="97" r="7.2"/><circle cx="914.5" cy="125.8" r="7.2"/><circle cx="924.5" cy="149.8" r="7.2"/><circle cx="936" cy="105.8" r="7.2"/><circle cx="933.8" cy="108.2" r="7.2"/><circle cx="908.8" cy="144" r="7.2"/><circle cx="892.5" cy="234.8" r="7.2"/><circle cx="958.2" cy="107.5" r="7.2"/><circle cx="893.5" cy="213.8" r="7.2"/><circle cx="933.8" cy="136" r="7.2"/><circle cx="933.2" cy="124" r="7.2"/><circle cx="895.8" cy="210" r="7.2"/><circle cx="899" cy="177" r="7.2"/><circle cx="964.2" cy="121.8" r="7.2"/><circle cx="981.8" cy="132" r="7.2"/><circle cx="916.8" cy="125.8" r="7.2"/><circle cx="972.2" cy="141.5" r="7.2"/><circle cx="894.5" cy="204.8" r="7.2"/><circle cx="908.2" cy="172.5" r="7.2"/><circle cx="969.8" cy="103.5" r="7.2"/><circle cx="908.8" cy="161.5" r="7.2"/><circle cx="942.5" cy="135.8" r="7.2"/><circle cx="899.2" cy="189.5" r="7.2"/><circle cx="924" cy="146.8" r="7.2"/><circle cx="949.8" cy="142.8" r="7.2"/><circle cx="893.2" cy="218.2" r="7.2"/><circle cx="921" cy="114.5" r="7.2"/><circle cx="896.8" cy="170.5" r="7.2"/><circle cx="961.8" cy="126.5" r="7.2"/><circle cx="979" cy="114.2" r="7.2"/><circle cx="939.2" cy="123" r="7.2"/><circle cx="958.5" cy="108.5" r="7.2"/><circle cx="918.2" cy="115" r="7.2"/><circle cx="892.8" cy="213.2" r="7.2"/><circle cx="907.8" cy="173.2" r="7.2"/><circle cx="927.8" cy="114" r="7.2"/><circle cx="920.5" cy="123.8" r="7.2"/><circle cx="953.5" cy="122.5" r="7.2"/><circle cx="915.5" cy="155" r="7.2"/><circle cx="904" cy="170.5" r="7.2"/><circle cx="911.2" cy="125.5" r="7.2"/><circle cx="946.2" cy="144.8" r="7.2"/><circle cx="930.2" cy="108.8" r="7.2"/><circle cx="918.8" cy="154" r="7.2"/><circle cx="942.8" cy="153.8" r="7.2"/><circle cx="923.5" cy="126" r="7.2"/><circle cx="959" cy="133.2" r="7.2"/><circle cx="921" cy="151" r="7.2"/><circle cx="905.5" cy="171.5" r="7.2"/><circle cx="961.8" cy="101" r="7.2"/><circle cx="944.8" cy="105.2" r="7.2"/><circle cx="905.5" cy="157.8" r="7.2"/><circle cx="904.8" cy="181" r="7.2"/><circle cx="958.8" cy="97" r="7.2"/><circle cx="903.2" cy="185.5" r="7.2"/><circle cx="956.8" cy="121.2" r="7.2"/><circle cx="971.2" cy="87.5" r="7.2"/><circle cx="902.8" cy="143.2" r="7.2"/><circle cx="924.5" cy="112.8" r="7.2"/><circle cx="906.5" cy="136.8" r="7.2"/><circle cx="896.8" cy="186.2" r="7.2"/><circle cx="910.8" cy="166.2" r="7.2"/><circle cx="939.8" cy="125.8" r="7.2"/><circle cx="978.2" cy="140.5" r="7.2"/><circle cx="945.2" cy="95.2" r="7.2"/><circle cx="910" cy="152.8" r="7.2"/><circle cx="940.5" cy="124" r="7.2"/><circle cx="919" cy="114" r="7.2"/><circle cx="952.8" cy="118.8" r="7.2"/><circle cx="956.8" cy="98" r="7.2"/><circle cx="978.5" cy="126.5" r="7.2"/><circle cx="921" cy="127.2" r="7.2"/><circle cx="916.5" cy="163.8" r="7.2"/><circle cx="917.5" cy="139.2" r="7.2"/><circle cx="931" cy="122" r="7.2"/><circle cx="925.2" cy="112.2" r="7.2"/><circle cx="965.8" cy="97.2" r="7.2"/><circle cx="918.2" cy="137" r="7.2"/><circle cx="942.8" cy="125" r="7.2"/><circle cx="959.5" cy="107.8" r="7.2"/><circle cx="984.8" cy="103.2" r="7.2"/><circle cx="912" cy="137.8" r="7.2"/><circle cx="939.8" cy="115.8" r="7.2"/><circle cx="969" cy="92.8" r="7.2"/><circle cx="961.8" cy="115" r="7.2"/><circle cx="900.2" cy="182.8" r="7.2"/><circle cx="939" cy="151.8" r="7.2"/><circle cx="923.8" cy="132.8" r="7.2"/><circle cx="912.2" cy="154.2" r="7.2"/><circle cx="940.2" cy="140.8" r="7.2"/><circle cx="921.8" cy="148.2" r="7.2"/><circle cx="947" cy="120" r="7.2"/><circle cx="928.5" cy="121" r="7.2"/><circle cx="968.2" cy="122.8" r="7.2"/><circle cx="985.5" cy="122.8" r="7.2"/><circle cx="889" cy="252" r="7.2"/><circle cx="894.8" cy="201.5" r="7.2"/><circle cx="975.5" cy="96.8" r="7.2"/><circle cx="919.5" cy="138.5" r="7.2"/><circle cx="961.2" cy="116.2" r="7.2"/><circle cx="930" cy="125.5" r="7.2"/><circle cx="962.8" cy="97.2" r="7.2"/><circle cx="953.8" cy="150" r="7.2"/><circle cx="985.2" cy="128" r="7.2"/><circle cx="930.2" cy="128.5" r="7.2"/><circle cx="935.8" cy="112" r="7.2"/><circle cx="945" cy="153" r="7.2"/><circle cx="962.2" cy="134.2" r="7.2"/><circle cx="939.5" cy="100" r="7.2"/><circle cx="965.2" cy="145" r="7.2"/><circle cx="895.8" cy="220" r="7.2"/><circle cx="982" cy="95" r="7.2"/><circle cx="929.8" cy="144.8" r="7.2"/><circle cx="948" cy="140" r="7.2"/><circle cx="919" cy="125" r="7.2"/><circle cx="988.2" cy="93.5" r="7.2"/><circle cx="896.2" cy="170.5" r="7.2"/><circle cx="936.5" cy="107.8" r="7.2"/><circle cx="940.8" cy="103.8" r="7.2"/><circle cx="940.5" cy="150.5" r="7.2"/><circle cx="959.8" cy="118" r="7.2"/><circle cx="918.8" cy="138.5" r="7.2"/><circle cx="961.5" cy="115.2" r="7.2"/><circle cx="906.2" cy="167.2" r="7.2"/><circle cx="975.2" cy="129.8" r="7.2"/><circle cx="963.5" cy="136" r="7.2"/><circle cx="970.8" cy="97" r="7.2"/><circle cx="912.5" cy="164.8" r="7.2"/><circle cx="932.8" cy="121" r="7.2"/><circle cx="976.5" cy="112.5" r="7.2"/><circle cx="895" cy="225.2" r="7.2"/><circle cx="918.5" cy="153" r="7.2"/><circle cx="915.8" cy="149" r="7.2"/><circle cx="901.2" cy="183" r="7.2"/><circle cx="911.8" cy="128" r="7.2"/><circle cx="983.5" cy="108.2" r="7.2"/><circle cx="985.5" cy="123.5" r="7.2"/><circle cx="935" cy="114.2" r="7.2"/><circle cx="959.5" cy="124.5" r="7.2"/><circle cx="984.2" cy="112.8" r="7.2"/><circle cx="895" cy="185.5" r="7.2"/><circle cx="925.5" cy="134" r="7.2"/><circle cx="904.2" cy="181.8" r="7.2"/><circle cx="944.8" cy="127.5" r="7.2"/><circle cx="922.5" cy="118" r="7.2"/><circle cx="971.8" cy="107.8" r="7.2"/><circle cx="901.5" cy="164.2" r="7.2"/><circle cx="937.5" cy="98.8" r="7.2"/><circle cx="934" cy="100.5" r="7.2"/><circle cx="988.2" cy="133.5" r="7.2"/><circle cx="908" cy="157" r="7.2"/><circle cx="924.2" cy="125.2" r="7.2"/><circle cx="977" cy="128.5" r="7.2"/><circle cx="915.2" cy="146" r="7.2"/><circle cx="915.8" cy="121.2" r="7.2"/><circle cx="985.5" cy="127.5" r="7.2"/><circle cx="956.5" cy="126.5" r="7.2"/><circle cx="901.5" cy="166.5" r="7.2"/><circle cx="912" cy="163.2" r="7.2"/><circle cx="953" cy="143.2" r="7.2"/><circle cx="967.8" cy="108.8" r="7.2"/><circle cx="936.5" cy="138.2" r="7.2"/><circle cx="919" cy="130.5" r="7.2"/><circle cx="912.5" cy="160" r="7.2"/><circle cx="902.5" cy="163.8" r="7.2"/><circle cx="960.2" cy="100.2" r="7.2"/><circle cx="960" cy="99.8" r="7.2"/><circle cx="890.2" cy="240" r="7.2"/><circle cx="944" cy="98.2" r="7.2"/><circle cx="954" cy="130.2" r="7.2"/><circle cx="918.8" cy="123.8" r="7.2"/><circle cx="938.8" cy="114.5" r="7.2"/><circle cx="892.2" cy="218.2" r="7.2"/><circle cx="939.2" cy="106" r="7.2"/><circle cx="973" cy="94.2" r="7.2"/><circle cx="926" cy="117.5" r="7.2"/><circle cx="929.2" cy="123.5" r="7.2"/><circle cx="912" cy="130" r="7.2"/><circle cx="951.5" cy="130.2" r="7.2"/><circle cx="926.2" cy="136.5" r="7.2"/><circle cx="926" cy="141.2" r="7.2"/><circle cx="938.2" cy="130.5" r="7.2"/><circle cx="952.5" cy="137.5" r="7.2"/><circle cx="947.5" cy="112.2" r="7.2"/><circle cx="973.2" cy="104.8" r="7.2"/><circle cx="967.2" cy="102" r="7.2"/><circle cx="959.8" cy="93.8" r="7.2"/><circle cx="980.8" cy="115" r="7.2"/><circle cx="953" cy="139.8" r="7.2"/><circle cx="959.8" cy="91.5" r="7.2"/><circle cx="978.2" cy="107.2" r="7.2"/><circle cx="939.8" cy="99.8" r="7.2"/><circle cx="983" cy="108" r="7.2"/><circle cx="916.5" cy="165" r="7.2"/><circle cx="977.2" cy="92" r="7.2"/><circle cx="949.8" cy="93.2" r="7.2"/><circle cx="933.2" cy="116.2" r="7.2"/><circle cx="904.5" cy="174.2" r="7.2"/><circle cx="907" cy="141.2" r="7.2"/><circle cx="971.5" cy="94.5" r="7.2"/><circle cx="970.8" cy="122.2" r="7.2"/><circle cx="956" cy="104.2" r="7.2"/><circle cx="954.5" cy="101.2" r="7.2"/><circle cx="972" cy="134.2" r="7.2"/><circle cx="968.2" cy="101.2" r="7.2"/><circle cx="969.5" cy="113.8" r="7.2"/><circle cx="936.8" cy="142.2" r="7.2"/><circle cx="937" cy="125.2" r="7.2"/><circle cx="916.8" cy="160.5" r="7.2"/><circle cx="975" cy="95.2" r="7.2"/><circle cx="965" cy="97.2" r="7.2"/><circle cx="957.8" cy="145" r="7.2"/><circle cx="923.5" cy="117.2" r="7.2"/><circle cx="914.5" cy="157.8" r="7.2"/><circle cx="891.2" cy="247.2" r="7.2"/><circle cx="947.5" cy="105" r="7.2"/><circle cx="950.8" cy="137" r="7.2"/><circle cx="893.2" cy="194" r="7.2"/><circle cx="944.5" cy="152.5" r="7.2"/><circle cx="970.2" cy="93.5" r="7.2"/><circle cx="926.8" cy="114.8" r="7.2"/><circle cx="949.5" cy="114.8" r="7.2"/><circle cx="971.2" cy="114.5" r="7.2"/><circle cx="910.2" cy="169.2" r="7.2"/><circle cx="906.5" cy="174.8" r="7.2"/><circle cx="917" cy="122" r="7.2"/><circle cx="909" cy="163.8" r="7.2"/><circle cx="894.5" cy="193.2" r="7.2"/><circle cx="989" cy="90.8" r="7.2"/><circle cx="926" cy="109.5" r="7.2"/><circle cx="942" cy="146.8" r="7.2"/><circle cx="895" cy="226" r="7.2"/><circle cx="916" cy="135.8" r="7.2"/><circle cx="957.8" cy="96.5" r="7.2"/><circle cx="926.2" cy="131" r="7.2"/><circle cx="904.2" cy="158.5" r="7.2"/><circle cx="970.8" cy="131.2" r="7.2"/><circle cx="901.8" cy="158.2" r="7.2"/><circle cx="907.2" cy="136.5" r="7.2"/><circle cx="957" cy="139.5" r="7.2"/><circle cx="889.5" cy="240.8" r="7.2"/><circle cx="934" cy="154" r="7.2"/><circle cx="988.8" cy="102" r="7.2"/><circle cx="967.5" cy="123" r="7.2"/><circle cx="908.8" cy="149.8" r="7.2"/><circle cx="941.5" cy="132.8" r="7.2"/><circle cx="971.8" cy="114.2" r="7.2"/><circle cx="929.2" cy="153.5" r="7.2"/><circle cx="924.2" cy="136.5" r="7.2"/><circle cx="944.2" cy="129.5" r="7.2"/><circle cx="923.2" cy="131" r="7.2"/><circle cx="936.2" cy="155.8" r="7.2"/><circle cx="928.8" cy="109" r="7.2"/><circle cx="978.5" cy="100" r="7.2"/><circle cx="923.5" cy="145" r="7.2"/><circle cx="959.8" cy="104.8" r="7.2"/><circle cx="914.5" cy="119.8" r="7.2"/><circle cx="913.2" cy="158.2" r="7.2"/><circle cx="959.2" cy="89.5" r="7.2"/><circle cx="916.8" cy="158.5" r="7.2"/><circle cx="972.2" cy="98.5" r="7.2"/><circle cx="973" cy="130.8" r="7.2"/><circle cx="937.2" cy="117.8" r="7.2"/><circle cx="900.2" cy="172.2" r="7.2"/><circle cx="930.5" cy="138.2" r="7.2"/><circle cx="965" cy="121.5" r="7.2"/><circle cx="959.2" cy="115.8" r="7.2"/><circle cx="891" cy="249.2" r="7.2"/><circle cx="984.8" cy="112" r="7.2"/><circle cx="975.8" cy="88.5" r="7.2"/><circle cx="945" cy="97.2" r="7.2"/><circle cx="942" cy="97.2" r="7.2"/><circle cx="944" cy="149" r="7.2"/><circle cx="909.8" cy="145" r="7.2"/><circle cx="967.8" cy="91" r="7.2"/><circle cx="948" cy="127.5" r="7.2"/><circle cx="985.5" cy="134" r="7.2"/><circle cx="975.2" cy="109" r="7.2"/><circle cx="940.5" cy="144" r="7.2"/><circle cx="982.2" cy="112.5" r="7.2"/><circle cx="979.5" cy="117" r="7.2"/><circle cx="935.8" cy="125.5" r="7.2"/><circle cx="934.8" cy="148.5" r="7.2"/><circle cx="983" cy="136.8" r="7.2"/><circle cx="988.2" cy="115" r="7.2"/><circle cx="984.8" cy="140.2" r="7.2"/><circle cx="954.8" cy="100.2" r="7.2"/><circle cx="899" cy="184.8" r="7.2"/><circle cx="904.8" cy="139" r="7.2"/><circle cx="946.2" cy="149.8" r="7.2"/><circle cx="910.5" cy="165.5" r="7.2"/><circle cx="923" cy="146.8" r="7.2"/><circle cx="892" cy="244.8" r="7.2"/><circle cx="893" cy="247.8" r="7.2"/><circle cx="897" cy="180.2" r="7.2"/><circle cx="934" cy="98.2" r="7.2"/><circle cx="890.8" cy="237.2" r="7.2"/><circle cx="972.8" cy="106.5" r="7.2"/><circle cx="965.2" cy="120" r="7.2"/><circle cx="893.8" cy="186" r="7.2"/><circle cx="949" cy="116.2" r="7.2"/><circle cx="924.2" cy="143.2" r="7.2"/><circle cx="984.8" cy="136" r="7.2"/><circle cx="934.5" cy="99.5" r="7.2"/><circle cx="928.2" cy="115.8" r="7.2"/><circle cx="891.8" cy="219.8" r="7.2"/><circle cx="893.8" cy="204" r="7.2"/><circle cx="955.2" cy="102.5" r="7.2"/><circle cx="924.5" cy="116.2" r="7.2"/><circle cx="981.2" cy="133.2" r="7.2"/><circle cx="914.5" cy="121.5" r="7.2"/><circle cx="896.5" cy="211.8" r="7.2"/><circle cx="914.2" cy="123.2" r="7.2"/><circle cx="957" cy="148.5" r="7.2"/><circle cx="932" cy="129.2" r="7.2"/><circle cx="944" cy="126.5" r="7.2"/><circle cx="968" cy="118.8" r="7.2"/><circle cx="933.2" cy="113.5" r="7.2"/><circle cx="957.2" cy="93.8" r="7.2"/><circle cx="901.2" cy="171" r="7.2"/><circle cx="908.8" cy="131.5" r="7.2"/><circle cx="973.5" cy="137" r="7.2"/><circle cx="963" cy="131" r="7.2"/><circle cx="921.5" cy="150.2" r="7.2"/><circle cx="957.2" cy="91.5" r="7.2"/><circle cx="932.8" cy="143.2" r="7.2"/><circle cx="900.2" cy="177" r="7.2"/><circle cx="933.5" cy="108.8" r="7.2"/><circle cx="960.8" cy="146" r="7.2"/><circle cx="941" cy="107.8" r="7.2"/><circle cx="972.5" cy="91.2" r="7.2"/><circle cx="895.5" cy="213.8" r="7.2"/><circle cx="965.5" cy="144.5" r="7.2"/><circle cx="941.5" cy="109.8" r="7.2"/><circle cx="920" cy="131.5" r="7.2"/><circle cx="977.8" cy="110.8" r="7.2"/><circle cx="983.5" cy="114.2" r="7.2"/><circle cx="943.8" cy="123.2" r="7.2"/><circle cx="912.2" cy="130" r="7.2"/><circle cx="971.8" cy="86.8" r="7.2"/><circle cx="965" cy="90.5" r="7.2"/><circle cx="931" cy="118.5" r="7.2"/><circle cx="914" cy="128" r="7.2"/><circle cx="893" cy="191" r="7.2"/><circle cx="963.2" cy="108.5" r="7.2"/><circle cx="976.2" cy="135.5" r="7.2"/><circle cx="926.2" cy="120.8" r="7.2"/><circle cx="891.2" cy="255.5" r="7.2"/><circle cx="933.8" cy="157.2" r="7.2"/><circle cx="933.5" cy="114.8" r="7.2"/><circle cx="939.2" cy="121.8" r="7.2"/><circle cx="956.5" cy="131" r="7.2"/><circle cx="893.8" cy="237.8" r="7.2"/><circle cx="918.8" cy="113.2" r="7.2"/><circle cx="937" cy="123.8" r="7.2"/><circle cx="964" cy="98" r="7.2"/><circle cx="976" cy="107.5" r="7.2"/><circle cx="931" cy="133" r="7.2"/><circle cx="896.5" cy="170" r="7.2"/><circle cx="929.5" cy="148" r="7.2"/><circle cx="980.8" cy="86.2" r="7.2"/><circle cx="931.8" cy="100.2" r="7.2"/><circle cx="895.8" cy="193.8" r="7.2"/><circle cx="926.8" cy="126.2" r="7.2"/><circle cx="983.2" cy="106.2" r="7.2"/><circle cx="945" cy="103.8" r="7.2"/><circle cx="936.2" cy="131.2" r="7.2"/><circle cx="972.5" cy="86.2" r="7.2"/><circle cx="932.8" cy="133.5" r="7.2"/><circle cx="955.2" cy="141.2" r="7.2"/><circle cx="964" cy="115" r="7.2"/><circle cx="985.2" cy="132.8" r="7.2"/><circle cx="938.8" cy="140" r="7.2"/><circle cx="965.8" cy="94.2" r="7.2"/><circle cx="933.8" cy="108" r="7.2"/><circle cx="899" cy="193" r="7.2"/><circle cx="974" cy="105.5" r="7.2"/><circle cx="924.8" cy="162" r="7.2"/><circle cx="977.5" cy="118" r="7.2"/><circle cx="967.8" cy="109.8" r="7.2"/><circle cx="931.2" cy="139" r="7.2"/><circle cx="938" cy="124.2" r="7.2"/><circle cx="911.5" cy="155" r="7.2"/><circle cx="953.5" cy="133.8" r="7.2"/><circle cx="926" cy="135.2" r="7.2"/><circle cx="906.5" cy="155.2" r="7.2"/><circle cx="943.8" cy="100.8" r="7.2"/><circle cx="965.5" cy="124.5" r="7.2"/><circle cx="917.5" cy="140.5" r="7.2"/><circle cx="948.2" cy="139" r="7.2"/><circle cx="975.2" cy="118.5" r="7.2"/><circle cx="909" cy="146.2" r="7.2"/><circle cx="973" cy="96" r="7.2"/><circle cx="937.5" cy="135.2" r="7.2"/><circle cx="944.5" cy="137" r="7.2"/><circle cx="893.5" cy="241" r="7.2"/><circle cx="938" cy="116.2" r="7.2"/><circle cx="982.5" cy="142.2" r="7.2"/><circle cx="943.8" cy="106.8" r="7.2"/><circle cx="954.2" cy="141" r="7.2"/><circle cx="925.5" cy="152.5" r="7.2"/><circle cx="948.2" cy="116.8" r="7.2"/><circle cx="920.2" cy="111.5" r="7.2"/><circle cx="903.5" cy="153.2" r="7.2"/><circle cx="963" cy="101" r="7.2"/><circle cx="894" cy="182.8" r="7.2"/><circle cx="954.8" cy="147" r="7.2"/><circle cx="913.5" cy="139.2" r="7.2"/><circle cx="985.2" cy="100" r="7.2"/><circle cx="968" cy="109.5" r="7.2"/><circle cx="904.5" cy="166.5" r="7.2"/><circle cx="917.5" cy="122" r="7.2"/><circle cx="946.5" cy="101.2" r="7.2"/><circle cx="945.2" cy="153.2" r="7.2"/><circle cx="893.5" cy="254.8" r="7.2"/><circle cx="943.8" cy="131.5" r="7.2"/><circle cx="945" cy="140.8" r="7.2"/><circle cx="947.5" cy="143.5" r="7.2"/><circle cx="961" cy="111.8" r="7.2"/><circle cx="927.5" cy="108" r="7.2"/><circle cx="936" cy="135" r="7.2"/><circle cx="921.8" cy="132.5" r="7.2"/><circle cx="968.8" cy="134.2" r="7.2"/><circle cx="893.2" cy="205.8" r="7.2"/><circle cx="951.5" cy="137.2" r="7.2"/><circle cx="926" cy="113.2" r="7.2"/><circle cx="940" cy="144.5" r="7.2"/><circle cx="989.5" cy="123.8" r="7.2"/><circle cx="917.5" cy="148.2" r="7.2"/><circle cx="959.5" cy="125.2" r="7.2"/><circle cx="895.5" cy="191" r="7.2"/><circle cx="900" cy="160.5" r="7.2"/><circle cx="920.8" cy="151.5" r="7.2"/><circle cx="989" cy="122.8" r="7.2"/><circle cx="959" cy="104.2" r="7.2"/><circle cx="888.8" cy="242.8" r="7.2"/><circle cx="915.5" cy="147.5" r="7.2"/><circle cx="906.8" cy="176.5" r="7.2"/><circle cx="962" cy="102.2" r="7.2"/><circle cx="903.5" cy="186.2" r="7.2"/><circle cx="958.5" cy="130.8" r="7.2"/><circle cx="950" cy="116.2" r="7.2"/><circle cx="911" cy="162.8" r="7.2"/><circle cx="944.2" cy="114.5" r="7.2"/><circle cx="922.2" cy="112.8" r="7.2"/><circle cx="948.8" cy="132.8" r="7.2"/><circle cx="936.2" cy="116.8" r="7.2"/><circle cx="892.2" cy="207.8" r="7.2"/><circle cx="949.8" cy="130.2" r="7.2"/><circle cx="914.5" cy="152.8" r="7.2"/><circle cx="983.8" cy="88.2" r="7.2"/><circle cx="905" cy="176.2" r="7.2"/><circle cx="977.5" cy="138.2" r="7.2"/><circle cx="965.2" cy="131.5" r="7.2"/><circle cx="916.2" cy="130.2" r="7.2"/><circle cx="900.5" cy="157.2" r="7.2"/><circle cx="972.8" cy="130" r="7.2"/><circle cx="984.2" cy="138.2" r="7.2"/><circle cx="951.5" cy="115.5" r="7.2"/><circle cx="918.8" cy="148" r="7.2"/><circle cx="923.8" cy="123" r="7.2"/><circle cx="968.2" cy="90.5" r="7.2"/><circle cx="979.8" cy="97.8" r="7.2"/><circle cx="972" cy="142.5" r="7.2"/><circle cx="967.5" cy="125" r="7.2"/><circle cx="937.8" cy="95.5" r="7.2"/><circle cx="909" cy="145.5" r="7.2"/><circle cx="968.2" cy="143.2" r="7.2"/><circle cx="945.2" cy="112.5" r="7.2"/><circle cx="899.2" cy="172.8" r="7.2"/><circle cx="902.5" cy="144.2" r="7.2"/><circle cx="983.5" cy="94.2" r="7.2"/><circle cx="948" cy="147.8" r="7.2"/><circle cx="937" cy="145.8" r="7.2"/><circle cx="955.2" cy="119" r="7.2"/><circle cx="951.5" cy="125" r="7.2"/><circle cx="951.2" cy="137.2" r="7.2"/><circle cx="912.2" cy="124.5" r="7.2"/><circle cx="955" cy="105.2" r="7.2"/><circle cx="965.5" cy="94" r="7.2"/><circle cx="957.8" cy="116.8" r="7.2"/><circle cx="926.2" cy="111.5" r="7.2"/><circle cx="982.8" cy="118" r="7.2"/><circle cx="949.2" cy="93.2" r="7.2"/><circle cx="973.8" cy="90.8" r="7.2"/><circle cx="972.5" cy="99.2" r="7.2"/><circle cx="892.5" cy="202" r="7.2"/><circle cx="891" cy="240" r="7.2"/><circle cx="908" cy="152.5" r="7.2"/><circle cx="984.5" cy="129.5" r="7.2"/><circle cx="894.8" cy="192.2" r="7.2"/><circle cx="900.2" cy="183" r="7.2"/><circle cx="973" cy="98.5" r="7.2"/><circle cx="983" cy="134.8" r="7.2"/><circle cx="964.5" cy="120" r="7.2"/><circle cx="988.5" cy="120.5" r="7.2"/><circle cx="984.5" cy="129" r="7.2"/><circle cx="931.8" cy="124.2" r="7.2"/><circle cx="943" cy="123.8" r="7.2"/><circle cx="930.5" cy="113.8" r="7.2"/><circle cx="900.5" cy="174" r="7.2"/><circle cx="909.8" cy="136.5" r="7.2"/><circle cx="936.8" cy="135.5" r="7.2"/><circle cx="955" cy="132" r="7.2"/><circle cx="908.2" cy="137.2" r="7.2"/><circle cx="951" cy="119.2" r="7.2"/><circle cx="938.5" cy="101" r="7.2"/><circle cx="974.8" cy="110" r="7.2"/><circle cx="932.5" cy="142" r="7.2"/><circle cx="949.5" cy="149.5" r="7.2"/><circle cx="919.2" cy="159.8" r="7.2"/><circle cx="970.5" cy="87.2" r="7.2"/><circle cx="954.2" cy="105.5" r="7.2"/><circle cx="970.2" cy="91.2" r="7.2"/><circle cx="897" cy="184" r="7.2"/><circle cx="893.8" cy="243" r="7.2"/><circle cx="957.2" cy="136" r="7.2"/><circle cx="939.8" cy="111.5" r="7.2"/><circle cx="987.2" cy="137.2" r="7.2"/><circle cx="909.8" cy="154.8" r="7.2"/><circle cx="956.8" cy="123" r="7.2"/><circle cx="986.5" cy="114.2" r="7.2"/><circle cx="937.5" cy="129.8" r="7.2"/><circle cx="972.2" cy="144.2" r="7.2"/><circle cx="893.5" cy="223.8" r="7.2"/><circle cx="918.5" cy="138" r="7.2"/><circle cx="897.8" cy="193.5" r="7.2"/><circle cx="906.5" cy="136.5" r="7.2"/><circle cx="956.8" cy="105.5" r="7.2"/><circle cx="951" cy="101" r="7.2"/><circle cx="936.2" cy="150.5" r="7.2"/><circle cx="931.2" cy="146" r="7.2"/><circle cx="976" cy="101" r="7.2"/><circle cx="951.5" cy="130.8" r="7.2"/><circle cx="989.2" cy="112.8" r="7.2"/><circle cx="927.2" cy="122.5" r="7.2"/><circle cx="924.8" cy="118" r="7.2"/><circle cx="952" cy="90.8" r="7.2"/><circle cx="987.2" cy="88" r="7.2"/><circle cx="978.5" cy="107.2" r="7.2"/><circle cx="895.8" cy="189.2" r="7.2"/><circle cx="898" cy="166" r="7.2"/><circle cx="927.8" cy="140.8" r="7.2"/><circle cx="965" cy="127.2" r="7.2"/><circle cx="962.8" cy="105.5" r="7.2"/><circle cx="979.8" cy="116.8" r="7.2"/><circle cx="919.2" cy="122.2" r="7.2"/><circle cx="894.5" cy="210.5" r="7.2"/><circle cx="955.8" cy="129.5" r="7.2"/><circle cx="968.2" cy="114.2" r="7.2"/><circle cx="908" cy="170.8" r="7.2"/><circle cx="938.2" cy="138" r="7.2"/><circle cx="933.2" cy="126" r="7.2"/><circle cx="910.8" cy="126.8" r="7.2"/><circle cx="943" cy="106.8" r="7.2"/><circle cx="890.5" cy="232.2" r="7.2"/><circle cx="894" cy="190.2" r="7.2"/><circle cx="933.2" cy="117" r="7.2"/><circle cx="907" cy="135" r="7.2"/><circle cx="978.2" cy="144" r="7.2"/><circle cx="988.8" cy="87.8" r="7.2"/><circle cx="911.8" cy="133" r="7.2"/><circle cx="971" cy="98.2" r="7.2"/><circle cx="950.2" cy="98.8" r="7.2"/><circle cx="918.5" cy="117.2" r="7.2"/><circle cx="972" cy="122.8" r="7.2"/><circle cx="931.5" cy="145.2" r="7.2"/><circle cx="955.8" cy="140.2" r="7.2"/><circle cx="909" cy="140" r="7.2"/><circle cx="904.5" cy="153.2" r="7.2"/><circle cx="935.5" cy="146" r="7.2"/><circle cx="977.5" cy="112.5" r="7.2"/><circle cx="971.8" cy="98.8" r="7.2"/><circle cx="896.8" cy="176.2" r="7.2"/><circle cx="929.8" cy="135.5" r="7.2"/><circle cx="908.8" cy="129.8" r="7.2"/><circle cx="892.5" cy="248.2" r="7.2"/><circle cx="905.5" cy="172" r="7.2"/><circle cx="958" cy="98.5" r="7.2"/><circle cx="945.8" cy="108.2" r="7.2"/><circle cx="896.5" cy="173.8" r="7.2"/><circle cx="909.8" cy="147.5" r="7.2"/><circle cx="891.8" cy="218" r="7.2"/><circle cx="889.5" cy="245.2" r="7.2"/><circle cx="933" cy="154" r="7.2"/><circle cx="987" cy="115.8" r="7.2"/><circle cx="919.2" cy="155.2" r="7.2"/><circle cx="934" cy="104" r="7.2"/><circle cx="899.2" cy="168.2" r="7.2"/><circle cx="985.8" cy="140" r="7.2"/><circle cx="917" cy="130.2" r="7.2"/><circle cx="930" cy="100.5" r="7.2"/><circle cx="966.5" cy="134.2" r="7.2"/><circle cx="969.5" cy="130" r="7.2"/><circle cx="904" cy="155.2" r="7.2"/><circle cx="898.2" cy="185.8" r="7.2"/><circle cx="937.8" cy="140" r="7.2"/><circle cx="975.5" cy="125.2" r="7.2"/><circle cx="981.8" cy="102" r="7.2"/><circle cx="906.2" cy="177" r="7.2"/><circle cx="965.2" cy="125" r="7.2"/><circle cx="983.2" cy="135.8" r="7.2"/><circle cx="957.8" cy="136.8" r="7.2"/><circle cx="917.8" cy="153.8" r="7.2"/><circle cx="973.2" cy="94.8" r="7.2"/><circle cx="946" cy="110.2" r="7.2"/><circle cx="921.2" cy="152.8" r="7.2"/><circle cx="899.2" cy="196.2" r="7.2"/><circle cx="981.8" cy="85" r="7.2"/><circle cx="889" cy="239.2" r="7.2"/><circle cx="952.2" cy="114.8" r="7.2"/><circle cx="970" cy="95" r="7.2"/><circle cx="920" cy="164.5" r="7.2"/><circle cx="896.2" cy="181.2" r="7.2"/><circle cx="946" cy="149" r="7.2"/><circle cx="912.8" cy="130.5" r="7.2"/><circle cx="905" cy="169.2" r="7.2"/><circle cx="980.5" cy="132.5" r="7.2"/><circle cx="910.2" cy="133.2" r="7.2"/><circle cx="928.5" cy="143.5" r="7.2"/><circle cx="966.5" cy="99" r="7.2"/><circle cx="963.8" cy="103" r="7.2"/><circle cx="965" cy="111.8" r="7.2"/><circle cx="980" cy="106.5" r="7.2"/><circle cx="912" cy="144.2" r="7.2"/><circle cx="966.2" cy="130" r="7.2"/><circle cx="979.2" cy="89" r="7.2"/><circle cx="973.5" cy="101.8" r="7.2"/><circle cx="952.2" cy="100" r="7.2"/><circle cx="982.8" cy="137.2" r="7.2"/><circle cx="986" cy="103" r="7.2"/><circle cx="925.5" cy="121" r="7.2"/><circle cx="934" cy="110" r="7.2"/><circle cx="949.5" cy="133.5" r="7.2"/><circle cx="914.5" cy="164.8" r="7.2"/><circle cx="929" cy="132.2" r="7.2"/><circle cx="981.2" cy="122.2" r="7.2"/><circle cx="924.2" cy="134.5" r="7.2"/><circle cx="938.5" cy="121" r="7.2"/><circle cx="907.5" cy="163.8" r="7.2"/><circle cx="978" cy="94" r="7.2"/><circle cx="908.2" cy="141.8" r="7.2"/><circle cx="931.5" cy="142.8" r="7.2"/><circle cx="892.5" cy="240.5" r="7.2"/><circle cx="963.2" cy="92.8" r="7.2"/><circle cx="956.2" cy="134" r="7.2"/><circle cx="910.5" cy="151" r="7.2"/><circle cx="898.8" cy="167" r="7.2"/><circle cx="872.8" cy="586.5" r="7.2"/><circle cx="867" cy="583.8" r="7.2"/><circle cx="872.2" cy="576.8" r="7.2"/><circle cx="869.5" cy="594.5" r="7.2"/><circle cx="866" cy="611" r="7.2"/><circle cx="855.8" cy="604" r="7.2"/><circle cx="873.2" cy="578.2" r="7.2"/><circle cx="874" cy="588.8" r="7.2"/><circle cx="866.2" cy="617" r="7.2"/><circle cx="856.8" cy="586.8" r="7.2"/><circle cx="869.5" cy="592.5" r="7.2"/><circle cx="862" cy="587.5" r="7.2"/><circle cx="876.5" cy="571.5" r="7.2"/><circle cx="871.5" cy="616.8" r="7.2"/><circle cx="862.8" cy="581.8" r="7.2"/><circle cx="850.8" cy="618" r="7.2"/><circle cx="872.5" cy="599.2" r="7.2"/><circle cx="875.2" cy="605.8" r="7.2"/><circle cx="873.2" cy="599.2" r="7.2"/><circle cx="867.8" cy="598.2" r="7.2"/><circle cx="875" cy="589.8" r="7.2"/><circle cx="869.8" cy="591.5" r="7.2"/><circle cx="873.2" cy="613" r="7.2"/><circle cx="876.8" cy="569.2" r="7.2"/><circle cx="860.8" cy="609.2" r="7.2"/><circle cx="858.5" cy="611.5" r="7.2"/><circle cx="868" cy="598.2" r="7.2"/><circle cx="858.8" cy="583" r="7.2"/><circle cx="866.8" cy="609.5" r="7.2"/><circle cx="848.5" cy="599.2" r="7.2"/><circle cx="856" cy="607" r="7.2"/><circle cx="873.2" cy="575.8" r="7.2"/><circle cx="875.8" cy="594.2" r="7.2"/><circle cx="876" cy="599.5" r="7.2"/><circle cx="877.5" cy="567.2" r="7.2"/><circle cx="872.2" cy="580" r="7.2"/><circle cx="876.2" cy="568" r="7.2"/><circle cx="869" cy="610.2" r="7.2"/><circle cx="876" cy="572.8" r="7.2"/><circle cx="873.8" cy="607.8" r="7.2"/><circle cx="863.2" cy="591.8" r="7.2"/><circle cx="862" cy="593.5" r="7.2"/><circle cx="870.2" cy="611.2" r="7.2"/><circle cx="862.2" cy="610.8" r="7.2"/><circle cx="850.8" cy="606.5" r="7.2"/><circle cx="872.2" cy="596.5" r="7.2"/><circle cx="871.5" cy="614.5" r="7.2"/><circle cx="864.8" cy="606.8" r="7.2"/><circle cx="876.8" cy="586.5" r="7.2"/><circle cx="861.8" cy="593.8" r="7.2"/><circle cx="875.5" cy="606.5" r="7.2"/><circle cx="866.8" cy="608" r="7.2"/><circle cx="853" cy="608.5" r="7.2"/><circle cx="852.2" cy="612.5" r="7.2"/><circle cx="874.8" cy="601" r="7.2"/><circle cx="877" cy="568.2" r="7.2"/><circle cx="856" cy="600" r="7.2"/><circle cx="863.2" cy="617" r="7.2"/><circle cx="871.8" cy="588" r="7.2"/><circle cx="872" cy="612" r="7.2"/><circle cx="853.2" cy="606.8" r="7.2"/><circle cx="862.8" cy="610.2" r="7.2"/><circle cx="854.8" cy="612" r="7.2"/><circle cx="876.2" cy="601.8" r="7.2"/><circle cx="867.2" cy="599.5" r="7.2"/><circle cx="850.8" cy="597.8" r="7.2"/><circle cx="848.8" cy="611" r="7.2"/><circle cx="860.5" cy="586.8" r="7.2"/><circle cx="863.2" cy="612" r="7.2"/><circle cx="865.8" cy="582" r="7.2"/><circle cx="869.5" cy="596" r="7.2"/><circle cx="859.8" cy="610.2" r="7.2"/><circle cx="869" cy="603.8" r="7.2"/><circle cx="858.2" cy="607.5" r="7.2"/><circle cx="867.5" cy="578.2" r="7.2"/><circle cx="869.5" cy="600" r="7.2"/><circle cx="868.8" cy="591.5" r="7.2"/><circle cx="864.5" cy="610.5" r="7.2"/><circle cx="861" cy="615.8" r="7.2"/><circle cx="854.8" cy="611" r="7.2"/><circle cx="855.8" cy="595.5" r="7.2"/><circle cx="856.2" cy="583.2" r="7.2"/><circle cx="872.8" cy="578" r="7.2"/><circle cx="866.2" cy="583" r="7.2"/><circle cx="872.2" cy="597.5" r="7.2"/><circle cx="865.5" cy="615.8" r="7.2"/><circle cx="876.5" cy="588.8" r="7.2"/><circle cx="848.8" cy="609.2" r="7.2"/><circle cx="855.5" cy="614" r="7.2"/><circle cx="850.2" cy="592.8" r="7.2"/><circle cx="866.2" cy="589" r="7.2"/><circle cx="855" cy="595.8" r="7.2"/><circle cx="853.5" cy="615.5" r="7.2"/><circle cx="850.2" cy="589.2" r="7.2"/><circle cx="854" cy="616" r="7.2"/><circle cx="868.5" cy="589.2" r="7.2"/><circle cx="877" cy="586.8" r="7.2"/><circle cx="866.2" cy="611.2" r="7.2"/><circle cx="871.5" cy="590.8" r="7.2"/><circle cx="867.8" cy="590" r="7.2"/><circle cx="867" cy="591" r="7.2"/><circle cx="850" cy="617.2" r="7.2"/><circle cx="848" cy="599" r="7.2"/><circle cx="848.2" cy="592.5" r="7.2"/><circle cx="866.5" cy="582.5" r="7.2"/><circle cx="869.2" cy="613.8" r="7.2"/><circle cx="853.2" cy="592.5" r="7.2"/><circle cx="870.2" cy="577.2" r="7.2"/><circle cx="870.8" cy="586.5" r="7.2"/><circle cx="872.2" cy="581.8" r="7.2"/><circle cx="858" cy="610" r="7.2"/><circle cx="867.8" cy="602.2" r="7.2"/><circle cx="857.2" cy="591.5" r="7.2"/><circle cx="871.2" cy="596.8" r="7.2"/><circle cx="852.5" cy="588.5" r="7.2"/><circle cx="866.8" cy="581" r="7.2"/><circle cx="864.2" cy="600.2" r="7.2"/><circle cx="868.2" cy="602.2" r="7.2"/><circle cx="876" cy="595.5" r="7.2"/><circle cx="849.2" cy="603.8" r="7.2"/><circle cx="874.8" cy="576.5" r="7.2"/><circle cx="858" cy="611.2" r="7.2"/><circle cx="859" cy="609.5" r="7.2"/><circle cx="852" cy="591.5" r="7.2"/><circle cx="859.2" cy="582.8" r="7.2"/><circle cx="854" cy="611.5" r="7.2"/><circle cx="865.8" cy="607.2" r="7.2"/><circle cx="868.5" cy="602" r="7.2"/><circle cx="867.2" cy="593.8" r="7.2"/><circle cx="870.2" cy="609.2" r="7.2"/></g>
<g fill="url(#kb)"><circle cx="949.8" cy="90.3" r="7.2"/><circle cx="943.3" cy="92.2" r="7.2"/><circle cx="930.7" cy="100.6" r="7.2"/><circle cx="925" cy="106.2" r="7.2"/><circle cx="918.6" cy="113" r="7.2"/><circle cx="913.9" cy="120.7" r="7.2"/><circle cx="911.6" cy="127.3" r="7.2"/><circle cx="906.9" cy="134.4" r="7.2"/><circle cx="903.6" cy="142.5" r="7.2"/><circle cx="900.8" cy="149.7" r="7.2"/><circle cx="900" cy="154.9" r="7.2"/><circle cx="896.8" cy="162.8" r="7.2"/><circle cx="895.2" cy="173.8" r="7.2"/><circle cx="893" cy="183.7" r="7.2"/><circle cx="892.7" cy="189.8" r="7.2"/><circle cx="891.3" cy="200.8" r="7.2"/><circle cx="890.9" cy="208.5" r="7.2"/><circle cx="889.8" cy="221.1" r="7.2"/><circle cx="889.3" cy="228.6" r="7.2"/><circle cx="888.1" cy="239.8" r="7.2"/><circle cx="887.9" cy="247.8" r="7.2"/><circle cx="886.9" cy="259.2" r="7.2"/><circle cx="886.8" cy="266.4" r="7.2"/><circle cx="892.8" cy="244.9" r="7.2"/><circle cx="891.1" cy="251.9" r="7.2"/><circle cx="889.9" cy="258.9" r="7.2"/><circle cx="888.9" cy="267.9" r="7.2"/><circle cx="890.4" cy="274.9" r="7.2"/><circle cx="888.9" cy="281.9" r="7.2"/><circle cx="888.8" cy="291.9" r="7.2"/><circle cx="887.4" cy="299.9" r="7.2"/><circle cx="886.9" cy="309.9" r="7.2"/><circle cx="889" cy="316.9" r="7.2"/><circle cx="888.4" cy="325.8" r="7.2"/><circle cx="885.6" cy="334.8" r="7.2"/><circle cx="886" cy="340.8" r="7.2"/><circle cx="887.5" cy="345.8" r="7.2"/><circle cx="885.3" cy="350.8" r="7.2"/><circle cx="884.1" cy="356.8" r="7.2"/><circle cx="884.1" cy="363.8" r="7.2"/><circle cx="885.6" cy="373.8" r="7.2"/><circle cx="885.7" cy="380.8" r="7.2"/><circle cx="883.6" cy="389.8" r="7.2"/><circle cx="885.1" cy="398.8" r="7.2"/><circle cx="882.8" cy="406.8" r="7.2"/><circle cx="884.3" cy="416.8" r="7.2"/><circle cx="881.3" cy="422.8" r="7.2"/><circle cx="882.5" cy="425.8" r="7.2"/><circle cx="882.6" cy="444.6" r="7.2"/><circle cx="882.2" cy="450.6" r="7.2"/><circle cx="883.2" cy="456.6" r="7.2"/><circle cx="880.8" cy="463.6" r="7.2"/><circle cx="881.1" cy="468.6" r="7.2"/><circle cx="880.2" cy="478.6" r="7.2"/><circle cx="882.2" cy="485.6" r="7.2"/><circle cx="879.8" cy="490.6" r="7.2"/><circle cx="878.9" cy="500.6" r="7.2"/><circle cx="881" cy="509.6" r="7.2"/><circle cx="880" cy="515.6" r="7.2"/><circle cx="880" cy="523.6" r="7.2"/><circle cx="878.8" cy="529.6" r="7.2"/><circle cx="878.3" cy="535.6" r="7.2"/><circle cx="879.9" cy="541.6" r="7.2"/><circle cx="877.4" cy="551.6" r="7.2"/><circle cx="877.3" cy="559.6" r="7.2"/><circle cx="876.5" cy="566.6" r="7.2"/><circle cx="876.8" cy="570.6" r="7.2"/><circle cx="848.4" cy="591" r="7.2"/><circle cx="848.3" cy="599.5" r="7.2"/><circle cx="848.6" cy="611.5" r="7.2"/><circle cx="848.4" cy="619" r="7.2"/><circle cx="862" cy="581" r="7.2"/><circle cx="869" cy="577.5" r="7.2"/></g>
</g>
</svg>
</body>
</html>
